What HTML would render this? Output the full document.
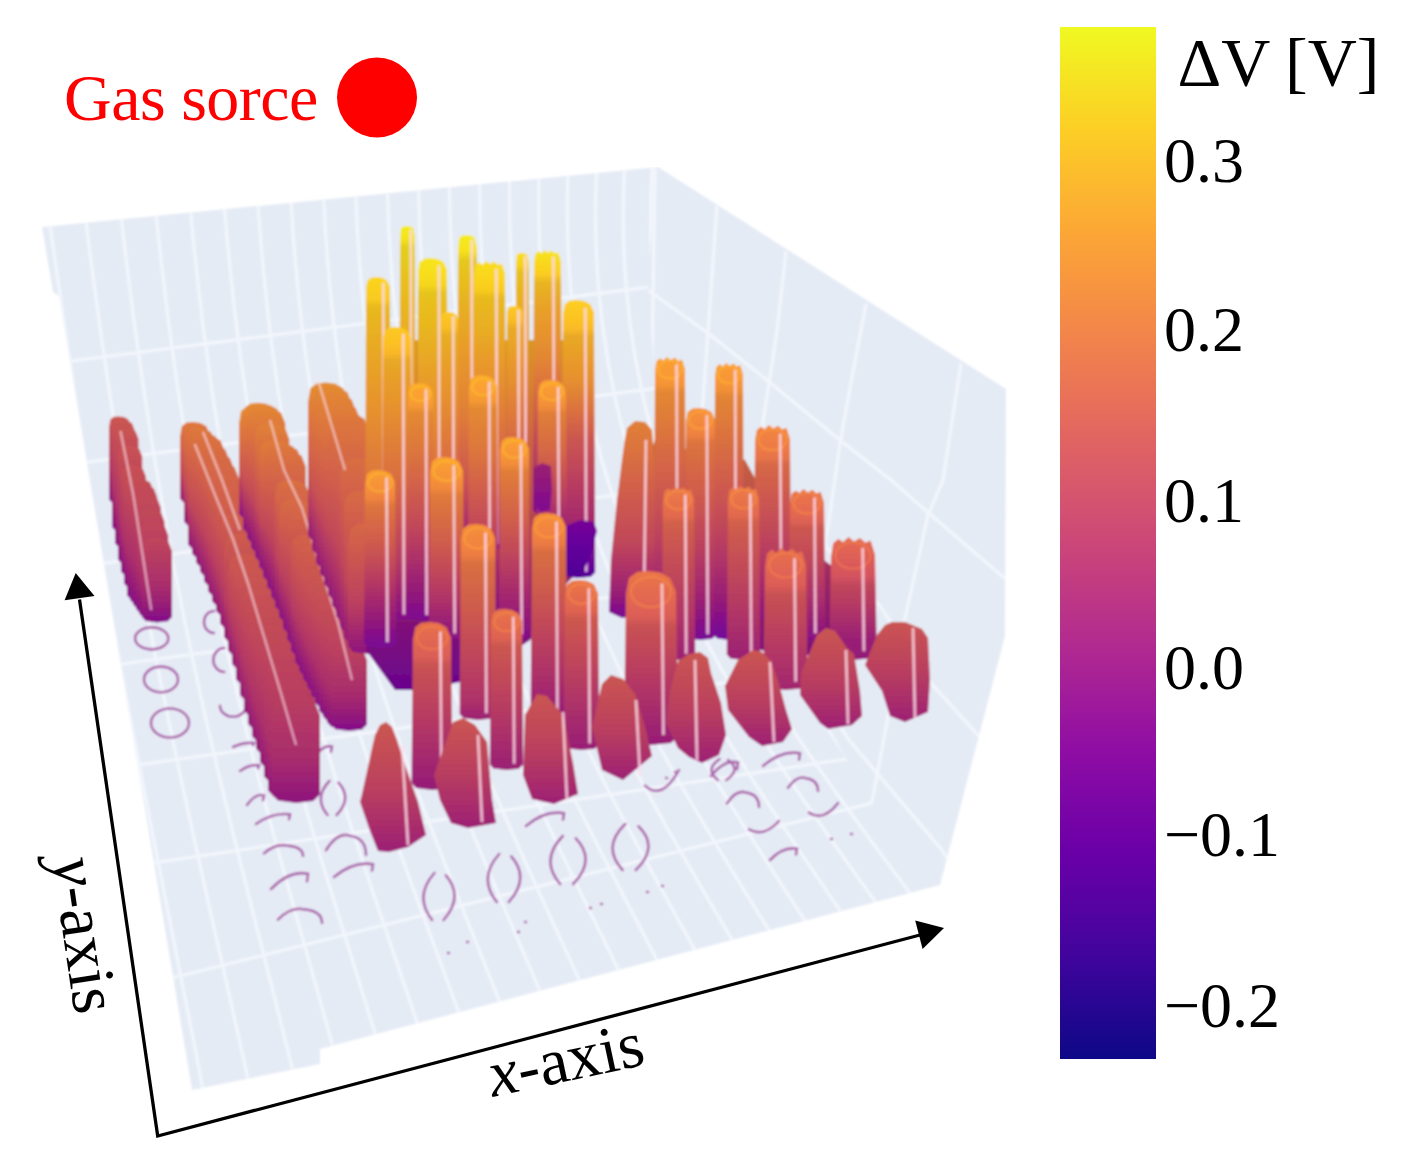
<!DOCTYPE html>
<html><head><meta charset="utf-8"><title>plot</title>
<style>html,body{margin:0;padding:0;background:#fff;}svg{display:block;}</style></head>
<body><svg width="1404" height="1172" viewBox="0 0 1404 1172">
<defs><linearGradient id="cb" x1="0" y1="0" x2="0" y2="1"><stop offset="0.000" stop-color="#f0f921"/><stop offset="0.050" stop-color="#f6e323"/><stop offset="0.100" stop-color="#fcce25"/><stop offset="0.150" stop-color="#fcba2e"/><stop offset="0.200" stop-color="#fca636"/><stop offset="0.250" stop-color="#f79540"/><stop offset="0.300" stop-color="#f2844b"/><stop offset="0.350" stop-color="#ea7456"/><stop offset="0.400" stop-color="#e16462"/><stop offset="0.450" stop-color="#d6566d"/><stop offset="0.500" stop-color="#cc4778"/><stop offset="0.550" stop-color="#be3884"/><stop offset="0.600" stop-color="#b12a90"/><stop offset="0.650" stop-color="#a01b9a"/><stop offset="0.700" stop-color="#8f0da4"/><stop offset="0.750" stop-color="#7c06a6"/><stop offset="0.800" stop-color="#6a00a8"/><stop offset="0.850" stop-color="#5602a2"/><stop offset="0.900" stop-color="#41049d"/><stop offset="0.950" stop-color="#270692"/><stop offset="1.000" stop-color="#0d0887"/></linearGradient><clipPath id="pc"><polygon points="42,227 658,167 1006,389 1005,636 940,885 320,1049 320,1064 192,1090 59,296 53,292"/></clipPath><clipPath id="fc"><polygon points="42,227 656,167 648,288 656,389 685,488 738,580 800,672 868,800 940,885 320,1049 320,1064 192,1090 59,296 53,292"/></clipPath><clipPath id="rc"><polygon points="656,167 1006,389 1005,636 940,885 868,800 800,672 738,580 685,488 656,389 648,288 652,168"/></clipPath><linearGradient id="g0" gradientUnits="userSpaceOnUse" x1="0" y1="416.378" x2="0" y2="503.333"><stop offset="0.0000" stop-color="#cc5750"/><stop offset="0.1500" stop-color="#c64f55"/><stop offset="0.3000" stop-color="#bf475b"/><stop offset="0.4500" stop-color="#b83e60"/><stop offset="0.6000" stop-color="#b13566"/><stop offset="0.7000" stop-color="#a72a6d"/><stop offset="0.8000" stop-color="#9b2075"/><stop offset="0.9000" stop-color="#8f157e"/><stop offset="1.0000" stop-color="#830c8c"/></linearGradient><linearGradient id="g1" gradientUnits="userSpaceOnUse" x1="0" y1="420.136" x2="0" y2="531"><stop offset="0.0000" stop-color="#ca5651"/><stop offset="0.1500" stop-color="#c54d56"/><stop offset="0.3000" stop-color="#be455b"/><stop offset="0.4500" stop-color="#b73d61"/><stop offset="0.6000" stop-color="#b03467"/><stop offset="0.7000" stop-color="#a62a6e"/><stop offset="0.8000" stop-color="#9b1f75"/><stop offset="0.9000" stop-color="#8f157e"/><stop offset="1.0000" stop-color="#830c8c"/></linearGradient><linearGradient id="g2" gradientUnits="userSpaceOnUse" x1="0" y1="428.239" x2="0" y2="547.5"><stop offset="0.0000" stop-color="#c95551"/><stop offset="0.1500" stop-color="#c44c57"/><stop offset="0.3000" stop-color="#be445c"/><stop offset="0.4500" stop-color="#b63c62"/><stop offset="0.6000" stop-color="#af3467"/><stop offset="0.7000" stop-color="#a6296f"/><stop offset="0.8000" stop-color="#9b1f75"/><stop offset="0.9000" stop-color="#8f157e"/><stop offset="1.0000" stop-color="#830c8c"/></linearGradient><linearGradient id="g3" gradientUnits="userSpaceOnUse" x1="0" y1="445.63" x2="0" y2="564"><stop offset="0.0000" stop-color="#c95353"/><stop offset="0.1500" stop-color="#c24b58"/><stop offset="0.3000" stop-color="#bd435d"/><stop offset="0.4500" stop-color="#b53b63"/><stop offset="0.6000" stop-color="#ae3368"/><stop offset="0.7000" stop-color="#a5286f"/><stop offset="0.8000" stop-color="#9a1f75"/><stop offset="0.9000" stop-color="#8e157e"/><stop offset="1.0000" stop-color="#830c8c"/></linearGradient><linearGradient id="g4" gradientUnits="userSpaceOnUse" x1="0" y1="465.598" x2="0" y2="576"><stop offset="0.0000" stop-color="#c85154"/><stop offset="0.1500" stop-color="#c14a58"/><stop offset="0.3000" stop-color="#bc415e"/><stop offset="0.4500" stop-color="#b43a63"/><stop offset="0.6000" stop-color="#ad3269"/><stop offset="0.7000" stop-color="#a42870"/><stop offset="0.8000" stop-color="#991e75"/><stop offset="0.9000" stop-color="#8e157e"/><stop offset="1.0000" stop-color="#830c8c"/></linearGradient><linearGradient id="g5" gradientUnits="userSpaceOnUse" x1="0" y1="476.951" x2="0" y2="588"><stop offset="0.0000" stop-color="#c65054"/><stop offset="0.1500" stop-color="#c0485a"/><stop offset="0.3000" stop-color="#bb405f"/><stop offset="0.4500" stop-color="#b33864"/><stop offset="0.6000" stop-color="#ac316a"/><stop offset="0.7000" stop-color="#a42870"/><stop offset="0.8000" stop-color="#991e76"/><stop offset="0.9000" stop-color="#8e147f"/><stop offset="1.0000" stop-color="#830c8c"/></linearGradient><linearGradient id="g6" gradientUnits="userSpaceOnUse" x1="0" y1="478.935" x2="0" y2="600"><stop offset="0.0000" stop-color="#c54e55"/><stop offset="0.1500" stop-color="#bf475b"/><stop offset="0.3000" stop-color="#ba3f5f"/><stop offset="0.4500" stop-color="#b23765"/><stop offset="0.6000" stop-color="#ab306a"/><stop offset="0.7000" stop-color="#a32771"/><stop offset="0.8000" stop-color="#981d76"/><stop offset="0.9000" stop-color="#8e1480"/><stop offset="1.0000" stop-color="#830c8c"/></linearGradient><linearGradient id="g7" gradientUnits="userSpaceOnUse" x1="0" y1="484.827" x2="0" y2="604.6"><stop offset="0.0000" stop-color="#c44c57"/><stop offset="0.1500" stop-color="#be455b"/><stop offset="0.3000" stop-color="#b83e60"/><stop offset="0.4500" stop-color="#b23666"/><stop offset="0.6000" stop-color="#ab2f6a"/><stop offset="0.7000" stop-color="#a22671"/><stop offset="0.8000" stop-color="#981d76"/><stop offset="0.9000" stop-color="#8d1480"/><stop offset="1.0000" stop-color="#830c8c"/></linearGradient><linearGradient id="g8" gradientUnits="userSpaceOnUse" x1="0" y1="495.318" x2="0" y2="609.2"><stop offset="0.0000" stop-color="#c34b58"/><stop offset="0.1500" stop-color="#be445c"/><stop offset="0.3000" stop-color="#b73d61"/><stop offset="0.4500" stop-color="#b13566"/><stop offset="0.6000" stop-color="#aa2e6b"/><stop offset="0.7000" stop-color="#a12671"/><stop offset="0.8000" stop-color="#971d77"/><stop offset="0.9000" stop-color="#8d1480"/><stop offset="1.0000" stop-color="#830c8c"/></linearGradient><linearGradient id="g9" gradientUnits="userSpaceOnUse" x1="0" y1="508.823" x2="0" y2="613.8"><stop offset="0.0000" stop-color="#c14a58"/><stop offset="0.1500" stop-color="#bd425d"/><stop offset="0.3000" stop-color="#b63b62"/><stop offset="0.4500" stop-color="#b03467"/><stop offset="0.6000" stop-color="#a92d6c"/><stop offset="0.7000" stop-color="#a12571"/><stop offset="0.8000" stop-color="#971d77"/><stop offset="0.9000" stop-color="#8d1380"/><stop offset="1.0000" stop-color="#830c8c"/></linearGradient><linearGradient id="g10" gradientUnits="userSpaceOnUse" x1="0" y1="522.328" x2="0" y2="618.4"><stop offset="0.0000" stop-color="#c0485a"/><stop offset="0.1500" stop-color="#bc415e"/><stop offset="0.3000" stop-color="#b53a63"/><stop offset="0.4500" stop-color="#af3468"/><stop offset="0.6000" stop-color="#a82c6d"/><stop offset="0.7000" stop-color="#a02472"/><stop offset="0.8000" stop-color="#961c77"/><stop offset="0.9000" stop-color="#8d1380"/><stop offset="1.0000" stop-color="#830c8c"/></linearGradient><linearGradient id="g11" gradientUnits="userSpaceOnUse" x1="0" y1="537.5" x2="0" y2="622.4"><stop offset="0.0000" stop-color="#bf465b"/><stop offset="0.1500" stop-color="#ba3f5f"/><stop offset="0.3000" stop-color="#b33964"/><stop offset="0.4500" stop-color="#ae3369"/><stop offset="0.6000" stop-color="#a72b6d"/><stop offset="0.7000" stop-color="#9f2472"/><stop offset="0.8000" stop-color="#961c77"/><stop offset="0.9000" stop-color="#8c1381"/><stop offset="1.0000" stop-color="#830c8c"/></linearGradient><linearGradient id="g13" gradientUnits="userSpaceOnUse" x1="0" y1="422" x2="0" y2="504"><stop offset="0.0000" stop-color="#e07b3a"/><stop offset="0.1500" stop-color="#d96f41"/><stop offset="0.3000" stop-color="#d36249"/><stop offset="0.4500" stop-color="#cb5651"/><stop offset="0.6000" stop-color="#c34b58"/><stop offset="0.7000" stop-color="#b83e61"/><stop offset="0.8000" stop-color="#ab306a"/><stop offset="0.9000" stop-color="#9d2274"/><stop offset="1.0000" stop-color="#8d1480"/></linearGradient><linearGradient id="g14" gradientUnits="userSpaceOnUse" x1="0" y1="428.009" x2="0" y2="527"><stop offset="0.0000" stop-color="#df793b"/><stop offset="0.1500" stop-color="#d86d42"/><stop offset="0.3000" stop-color="#d1614a"/><stop offset="0.4500" stop-color="#c95551"/><stop offset="0.6000" stop-color="#c24a58"/><stop offset="0.7000" stop-color="#b73d62"/><stop offset="0.8000" stop-color="#aa2f6b"/><stop offset="0.9000" stop-color="#9c2174"/><stop offset="1.0000" stop-color="#8d1480"/></linearGradient><linearGradient id="g15" gradientUnits="userSpaceOnUse" x1="0" y1="432.414" x2="0" y2="550"><stop offset="0.0000" stop-color="#dd763d"/><stop offset="0.1500" stop-color="#d66a44"/><stop offset="0.3000" stop-color="#d05e4b"/><stop offset="0.4500" stop-color="#c95352"/><stop offset="0.6000" stop-color="#c14959"/><stop offset="0.7000" stop-color="#b63b62"/><stop offset="0.8000" stop-color="#aa2e6b"/><stop offset="0.9000" stop-color="#9c2174"/><stop offset="1.0000" stop-color="#8d1480"/></linearGradient><linearGradient id="g16" gradientUnits="userSpaceOnUse" x1="0" y1="436.05" x2="0" y2="559.231"><stop offset="0.0000" stop-color="#db733f"/><stop offset="0.1500" stop-color="#d56846"/><stop offset="0.3000" stop-color="#cf5c4d"/><stop offset="0.4500" stop-color="#c85254"/><stop offset="0.6000" stop-color="#c0475a"/><stop offset="0.7000" stop-color="#b53a63"/><stop offset="0.8000" stop-color="#a92d6c"/><stop offset="0.9000" stop-color="#9b2074"/><stop offset="1.0000" stop-color="#8d1480"/></linearGradient><linearGradient id="g17" gradientUnits="userSpaceOnUse" x1="0" y1="444.721" x2="0" y2="568.462"><stop offset="0.0000" stop-color="#da7040"/><stop offset="0.1500" stop-color="#d46547"/><stop offset="0.3000" stop-color="#ce5a4e"/><stop offset="0.4500" stop-color="#c65054"/><stop offset="0.6000" stop-color="#be465b"/><stop offset="0.7000" stop-color="#b43963"/><stop offset="0.8000" stop-color="#a82d6c"/><stop offset="0.9000" stop-color="#9b2075"/><stop offset="1.0000" stop-color="#8d1480"/></linearGradient><linearGradient id="g18" gradientUnits="userSpaceOnUse" x1="0" y1="453.391" x2="0" y2="577.692"><stop offset="0.0000" stop-color="#d86d42"/><stop offset="0.1500" stop-color="#d36249"/><stop offset="0.3000" stop-color="#cc584f"/><stop offset="0.4500" stop-color="#c54e55"/><stop offset="0.6000" stop-color="#be445b"/><stop offset="0.7000" stop-color="#b33864"/><stop offset="0.8000" stop-color="#a82c6d"/><stop offset="0.9000" stop-color="#9b2075"/><stop offset="1.0000" stop-color="#8d1480"/></linearGradient><linearGradient id="g19" gradientUnits="userSpaceOnUse" x1="0" y1="462.436" x2="0" y2="587.5"><stop offset="0.0000" stop-color="#d76b43"/><stop offset="0.1500" stop-color="#d2614a"/><stop offset="0.3000" stop-color="#cb5651"/><stop offset="0.4500" stop-color="#c44c57"/><stop offset="0.6000" stop-color="#bd435d"/><stop offset="0.7000" stop-color="#b23765"/><stop offset="0.8000" stop-color="#a72b6d"/><stop offset="0.9000" stop-color="#9b1f75"/><stop offset="1.0000" stop-color="#8d1480"/></linearGradient><linearGradient id="g20" gradientUnits="userSpaceOnUse" x1="0" y1="474.158" x2="0" y2="597.5"><stop offset="0.0000" stop-color="#d56845"/><stop offset="0.1500" stop-color="#d05e4b"/><stop offset="0.3000" stop-color="#c95551"/><stop offset="0.4500" stop-color="#c34b58"/><stop offset="0.6000" stop-color="#bc415e"/><stop offset="0.7000" stop-color="#b23666"/><stop offset="0.8000" stop-color="#a72a6d"/><stop offset="0.9000" stop-color="#9b1f75"/><stop offset="1.0000" stop-color="#8d1480"/></linearGradient><linearGradient id="g21" gradientUnits="userSpaceOnUse" x1="0" y1="485.881" x2="0" y2="607.5"><stop offset="0.0000" stop-color="#d56547"/><stop offset="0.1500" stop-color="#cf5c4d"/><stop offset="0.3000" stop-color="#c85353"/><stop offset="0.4500" stop-color="#c14a58"/><stop offset="0.6000" stop-color="#bb405f"/><stop offset="0.7000" stop-color="#b13566"/><stop offset="0.8000" stop-color="#a62a6e"/><stop offset="0.9000" stop-color="#9a1f75"/><stop offset="1.0000" stop-color="#8d1480"/></linearGradient><linearGradient id="g22" gradientUnits="userSpaceOnUse" x1="0" y1="499.606" x2="0" y2="617.5"><stop offset="0.0000" stop-color="#d36249"/><stop offset="0.1500" stop-color="#cd594e"/><stop offset="0.3000" stop-color="#c75154"/><stop offset="0.4500" stop-color="#c0485a"/><stop offset="0.6000" stop-color="#ba3f5f"/><stop offset="0.7000" stop-color="#b03467"/><stop offset="0.8000" stop-color="#a6296f"/><stop offset="0.9000" stop-color="#9a1e75"/><stop offset="1.0000" stop-color="#8d1480"/></linearGradient><linearGradient id="g23" gradientUnits="userSpaceOnUse" x1="0" y1="513.542" x2="0" y2="630.2"><stop offset="0.0000" stop-color="#d1604a"/><stop offset="0.1500" stop-color="#cb5750"/><stop offset="0.3000" stop-color="#c54e55"/><stop offset="0.4500" stop-color="#bf465b"/><stop offset="0.6000" stop-color="#b83e60"/><stop offset="0.7000" stop-color="#af3468"/><stop offset="0.8000" stop-color="#a5286f"/><stop offset="0.9000" stop-color="#991e75"/><stop offset="1.0000" stop-color="#8d1480"/></linearGradient><linearGradient id="g24" gradientUnits="userSpaceOnUse" x1="0" y1="533.155" x2="0" y2="643.8"><stop offset="0.0000" stop-color="#d05d4c"/><stop offset="0.1500" stop-color="#c95551"/><stop offset="0.3000" stop-color="#c44c57"/><stop offset="0.4500" stop-color="#be445b"/><stop offset="0.6000" stop-color="#b73c62"/><stop offset="0.7000" stop-color="#ae3269"/><stop offset="0.8000" stop-color="#a42870"/><stop offset="0.9000" stop-color="#991e76"/><stop offset="1.0000" stop-color="#8d1480"/></linearGradient><linearGradient id="g25" gradientUnits="userSpaceOnUse" x1="0" y1="554.011" x2="0" y2="657.4"><stop offset="0.0000" stop-color="#ce5b4d"/><stop offset="0.1500" stop-color="#c95353"/><stop offset="0.3000" stop-color="#c24b58"/><stop offset="0.4500" stop-color="#bd435d"/><stop offset="0.6000" stop-color="#b53b63"/><stop offset="0.7000" stop-color="#ad316a"/><stop offset="0.8000" stop-color="#a42870"/><stop offset="0.9000" stop-color="#981d76"/><stop offset="1.0000" stop-color="#8d1480"/></linearGradient><linearGradient id="g26" gradientUnits="userSpaceOnUse" x1="0" y1="565.283" x2="0" y2="671"><stop offset="0.0000" stop-color="#cc584f"/><stop offset="0.1500" stop-color="#c75154"/><stop offset="0.3000" stop-color="#c14959"/><stop offset="0.4500" stop-color="#bc415e"/><stop offset="0.6000" stop-color="#b43963"/><stop offset="0.7000" stop-color="#ac306a"/><stop offset="0.8000" stop-color="#a32771"/><stop offset="0.9000" stop-color="#981d76"/><stop offset="1.0000" stop-color="#8d1480"/></linearGradient><linearGradient id="g27" gradientUnits="userSpaceOnUse" x1="0" y1="576.674" x2="0" y2="686.692"><stop offset="0.0000" stop-color="#ca5651"/><stop offset="0.1500" stop-color="#c54e55"/><stop offset="0.3000" stop-color="#bf475a"/><stop offset="0.4500" stop-color="#ba3f5f"/><stop offset="0.6000" stop-color="#b33864"/><stop offset="0.7000" stop-color="#ab2f6a"/><stop offset="0.8000" stop-color="#a22671"/><stop offset="0.9000" stop-color="#981d76"/><stop offset="1.0000" stop-color="#8d1480"/></linearGradient><linearGradient id="g28" gradientUnits="userSpaceOnUse" x1="0" y1="588.813" x2="0" y2="702.385"><stop offset="0.0000" stop-color="#c95452"/><stop offset="0.1500" stop-color="#c44c57"/><stop offset="0.3000" stop-color="#be455b"/><stop offset="0.4500" stop-color="#b93e60"/><stop offset="0.6000" stop-color="#b23765"/><stop offset="0.7000" stop-color="#a92e6b"/><stop offset="0.8000" stop-color="#a12671"/><stop offset="0.9000" stop-color="#971d77"/><stop offset="1.0000" stop-color="#8d1480"/></linearGradient><linearGradient id="g29" gradientUnits="userSpaceOnUse" x1="0" y1="600.952" x2="0" y2="718.077"><stop offset="0.0000" stop-color="#c75154"/><stop offset="0.1500" stop-color="#c24a58"/><stop offset="0.3000" stop-color="#bd435c"/><stop offset="0.4500" stop-color="#b73d62"/><stop offset="0.6000" stop-color="#b13566"/><stop offset="0.7000" stop-color="#a82d6c"/><stop offset="0.8000" stop-color="#a02572"/><stop offset="0.9000" stop-color="#971d77"/><stop offset="1.0000" stop-color="#8d1480"/></linearGradient><linearGradient id="g30" gradientUnits="userSpaceOnUse" x1="0" y1="613.061" x2="0" y2="731.462"><stop offset="0.0000" stop-color="#c54e55"/><stop offset="0.1500" stop-color="#c0485a"/><stop offset="0.3000" stop-color="#bc415e"/><stop offset="0.4500" stop-color="#b53b63"/><stop offset="0.6000" stop-color="#b03467"/><stop offset="0.7000" stop-color="#a72c6d"/><stop offset="0.8000" stop-color="#a02472"/><stop offset="0.9000" stop-color="#961c77"/><stop offset="1.0000" stop-color="#8d1480"/></linearGradient><linearGradient id="g31" gradientUnits="userSpaceOnUse" x1="0" y1="625.084" x2="0" y2="744.077"><stop offset="0.0000" stop-color="#c34c57"/><stop offset="0.1500" stop-color="#be465b"/><stop offset="0.3000" stop-color="#ba3f5f"/><stop offset="0.4500" stop-color="#b43963"/><stop offset="0.6000" stop-color="#ae3368"/><stop offset="0.7000" stop-color="#a72b6d"/><stop offset="0.8000" stop-color="#9f2373"/><stop offset="0.9000" stop-color="#961c77"/><stop offset="1.0000" stop-color="#8d1480"/></linearGradient><linearGradient id="g32" gradientUnits="userSpaceOnUse" x1="0" y1="637.107" x2="0" y2="756.692"><stop offset="0.0000" stop-color="#c14a58"/><stop offset="0.1500" stop-color="#be435c"/><stop offset="0.3000" stop-color="#b83e61"/><stop offset="0.4500" stop-color="#b23765"/><stop offset="0.6000" stop-color="#ad3269"/><stop offset="0.7000" stop-color="#a62a6e"/><stop offset="0.8000" stop-color="#9e2373"/><stop offset="0.9000" stop-color="#951c78"/><stop offset="1.0000" stop-color="#8d1480"/></linearGradient><linearGradient id="g33" gradientUnits="userSpaceOnUse" x1="0" y1="649.13" x2="0" y2="770.2"><stop offset="0.0000" stop-color="#bf475a"/><stop offset="0.1500" stop-color="#bc415e"/><stop offset="0.3000" stop-color="#b63c62"/><stop offset="0.4500" stop-color="#b13566"/><stop offset="0.6000" stop-color="#ab306a"/><stop offset="0.7000" stop-color="#a5286f"/><stop offset="0.8000" stop-color="#9d2274"/><stop offset="0.9000" stop-color="#951b78"/><stop offset="1.0000" stop-color="#8d1480"/></linearGradient><linearGradient id="g34" gradientUnits="userSpaceOnUse" x1="0" y1="663.942" x2="0" y2="784.6"><stop offset="0.0000" stop-color="#be445b"/><stop offset="0.1500" stop-color="#ba3f5f"/><stop offset="0.3000" stop-color="#b43a63"/><stop offset="0.4500" stop-color="#b03467"/><stop offset="0.6000" stop-color="#aa2f6b"/><stop offset="0.7000" stop-color="#a42870"/><stop offset="0.8000" stop-color="#9c2174"/><stop offset="0.9000" stop-color="#951b78"/><stop offset="1.0000" stop-color="#8d1480"/></linearGradient><linearGradient id="g35" gradientUnits="userSpaceOnUse" x1="0" y1="678.971" x2="0" y2="799"><stop offset="0.0000" stop-color="#bd425d"/><stop offset="0.1500" stop-color="#b73d61"/><stop offset="0.3000" stop-color="#b23765"/><stop offset="0.4500" stop-color="#ae3368"/><stop offset="0.6000" stop-color="#a92d6c"/><stop offset="0.7000" stop-color="#a32771"/><stop offset="0.8000" stop-color="#9b2075"/><stop offset="0.9000" stop-color="#941a78"/><stop offset="1.0000" stop-color="#8d1480"/></linearGradient><linearGradient id="g36" gradientUnits="userSpaceOnUse" x1="0" y1="694" x2="0" y2="803"><stop offset="0.0000" stop-color="#ba3f5f"/><stop offset="0.1500" stop-color="#b53b63"/><stop offset="0.3000" stop-color="#b13566"/><stop offset="0.4500" stop-color="#ac316a"/><stop offset="0.6000" stop-color="#a72c6d"/><stop offset="0.7000" stop-color="#a22671"/><stop offset="0.8000" stop-color="#9b2075"/><stop offset="0.9000" stop-color="#941a78"/><stop offset="1.0000" stop-color="#8d1480"/></linearGradient><linearGradient id="g39" gradientUnits="userSpaceOnUse" x1="0" y1="406.356" x2="0" y2="520"><stop offset="0.0000" stop-color="#e5902f"/><stop offset="0.1500" stop-color="#e07f38"/><stop offset="0.3000" stop-color="#d96f41"/><stop offset="0.4500" stop-color="#d1604a"/><stop offset="0.6000" stop-color="#c75154"/><stop offset="0.7000" stop-color="#ba3f5f"/><stop offset="0.8000" stop-color="#a92e6b"/><stop offset="0.9000" stop-color="#971d77"/><stop offset="1.0000" stop-color="#830c8c"/></linearGradient><linearGradient id="g40" gradientUnits="userSpaceOnUse" x1="0" y1="402.75" x2="0" y2="534.706"><stop offset="0.0000" stop-color="#e48d30"/><stop offset="0.1500" stop-color="#e07c39"/><stop offset="0.3000" stop-color="#d86d42"/><stop offset="0.4500" stop-color="#d05d4c"/><stop offset="0.6000" stop-color="#c64f55"/><stop offset="0.7000" stop-color="#b93f60"/><stop offset="0.8000" stop-color="#a92d6c"/><stop offset="0.9000" stop-color="#971d77"/><stop offset="1.0000" stop-color="#830c8c"/></linearGradient><linearGradient id="g41" gradientUnits="userSpaceOnUse" x1="0" y1="404.295" x2="0" y2="544.118"><stop offset="0.0000" stop-color="#e38933"/><stop offset="0.1500" stop-color="#df793b"/><stop offset="0.3000" stop-color="#d66a44"/><stop offset="0.4500" stop-color="#ce5b4d"/><stop offset="0.6000" stop-color="#c54d56"/><stop offset="0.7000" stop-color="#b83d61"/><stop offset="0.8000" stop-color="#a82c6d"/><stop offset="0.9000" stop-color="#961c77"/><stop offset="1.0000" stop-color="#830c8c"/></linearGradient><linearGradient id="g42" gradientUnits="userSpaceOnUse" x1="0" y1="408.024" x2="0" y2="553.529"><stop offset="0.0000" stop-color="#e28534"/><stop offset="0.1500" stop-color="#dd763d"/><stop offset="0.3000" stop-color="#d56746"/><stop offset="0.4500" stop-color="#cd594e"/><stop offset="0.6000" stop-color="#c34b57"/><stop offset="0.7000" stop-color="#b63c62"/><stop offset="0.8000" stop-color="#a72b6d"/><stop offset="0.9000" stop-color="#961c78"/><stop offset="1.0000" stop-color="#830c8c"/></linearGradient><linearGradient id="g43" gradientUnits="userSpaceOnUse" x1="0" y1="423.439" x2="0" y2="562.941"><stop offset="0.0000" stop-color="#e18236"/><stop offset="0.1500" stop-color="#db733f"/><stop offset="0.3000" stop-color="#d46547"/><stop offset="0.4500" stop-color="#cb5750"/><stop offset="0.6000" stop-color="#c24b58"/><stop offset="0.7000" stop-color="#b53a63"/><stop offset="0.8000" stop-color="#a72a6d"/><stop offset="0.9000" stop-color="#951b78"/><stop offset="1.0000" stop-color="#830c8c"/></linearGradient><linearGradient id="g44" gradientUnits="userSpaceOnUse" x1="0" y1="441.109" x2="0" y2="572.5"><stop offset="0.0000" stop-color="#e07e38"/><stop offset="0.1500" stop-color="#da7040"/><stop offset="0.3000" stop-color="#d36249"/><stop offset="0.4500" stop-color="#ca5551"/><stop offset="0.6000" stop-color="#c14959"/><stop offset="0.7000" stop-color="#b43963"/><stop offset="0.8000" stop-color="#a6296e"/><stop offset="0.9000" stop-color="#941b78"/><stop offset="1.0000" stop-color="#830c8c"/></linearGradient><linearGradient id="g45" gradientUnits="userSpaceOnUse" x1="0" y1="442.268" x2="0" y2="582.5"><stop offset="0.0000" stop-color="#df7a3a"/><stop offset="0.1500" stop-color="#d86d42"/><stop offset="0.3000" stop-color="#d1604a"/><stop offset="0.4500" stop-color="#c95352"/><stop offset="0.6000" stop-color="#bf475a"/><stop offset="0.7000" stop-color="#b23864"/><stop offset="0.8000" stop-color="#a5296f"/><stop offset="0.9000" stop-color="#941a78"/><stop offset="1.0000" stop-color="#830c8c"/></linearGradient><linearGradient id="g46" gradientUnits="userSpaceOnUse" x1="0" y1="445.137" x2="0" y2="592.5"><stop offset="0.0000" stop-color="#de783c"/><stop offset="0.1500" stop-color="#d66a44"/><stop offset="0.3000" stop-color="#d05d4c"/><stop offset="0.4500" stop-color="#c75154"/><stop offset="0.6000" stop-color="#be455b"/><stop offset="0.7000" stop-color="#b23666"/><stop offset="0.8000" stop-color="#a42870"/><stop offset="0.9000" stop-color="#931a78"/><stop offset="1.0000" stop-color="#830c8c"/></linearGradient><linearGradient id="g47" gradientUnits="userSpaceOnUse" x1="0" y1="450.932" x2="0" y2="602.5"><stop offset="0.0000" stop-color="#dc743e"/><stop offset="0.1500" stop-color="#d56746"/><stop offset="0.3000" stop-color="#ce5a4d"/><stop offset="0.4500" stop-color="#c64f55"/><stop offset="0.6000" stop-color="#be435c"/><stop offset="0.7000" stop-color="#b13566"/><stop offset="0.8000" stop-color="#a42870"/><stop offset="0.9000" stop-color="#931979"/><stop offset="1.0000" stop-color="#830c8c"/></linearGradient><linearGradient id="g48" gradientUnits="userSpaceOnUse" x1="0" y1="479.957" x2="0" y2="612.5"><stop offset="0.0000" stop-color="#da7040"/><stop offset="0.1500" stop-color="#d46448"/><stop offset="0.3000" stop-color="#cc584f"/><stop offset="0.4500" stop-color="#c44d56"/><stop offset="0.6000" stop-color="#bc425e"/><stop offset="0.7000" stop-color="#b03467"/><stop offset="0.8000" stop-color="#a32771"/><stop offset="0.9000" stop-color="#921979"/><stop offset="1.0000" stop-color="#830c8c"/></linearGradient><linearGradient id="g49" gradientUnits="userSpaceOnUse" x1="0" y1="498.661" x2="0" y2="622.833"><stop offset="0.0000" stop-color="#d86d42"/><stop offset="0.1500" stop-color="#d2624a"/><stop offset="0.3000" stop-color="#ca5651"/><stop offset="0.4500" stop-color="#c34b58"/><stop offset="0.6000" stop-color="#bb405f"/><stop offset="0.7000" stop-color="#ae3368"/><stop offset="0.8000" stop-color="#a22671"/><stop offset="0.9000" stop-color="#92187a"/><stop offset="1.0000" stop-color="#830c8c"/></linearGradient><linearGradient id="g50" gradientUnits="userSpaceOnUse" x1="0" y1="503.19" x2="0" y2="634.167"><stop offset="0.0000" stop-color="#d66a44"/><stop offset="0.1500" stop-color="#d05e4b"/><stop offset="0.3000" stop-color="#c95452"/><stop offset="0.4500" stop-color="#c14959"/><stop offset="0.6000" stop-color="#b93f60"/><stop offset="0.7000" stop-color="#ad3269"/><stop offset="0.8000" stop-color="#a12571"/><stop offset="0.9000" stop-color="#91187a"/><stop offset="1.0000" stop-color="#830c8c"/></linearGradient><linearGradient id="g51" gradientUnits="userSpaceOnUse" x1="0" y1="512.226" x2="0" y2="645.5"><stop offset="0.0000" stop-color="#d56646"/><stop offset="0.1500" stop-color="#ce5b4d"/><stop offset="0.3000" stop-color="#c75154"/><stop offset="0.4500" stop-color="#bf475a"/><stop offset="0.6000" stop-color="#b73d61"/><stop offset="0.7000" stop-color="#ac316a"/><stop offset="0.8000" stop-color="#a02472"/><stop offset="0.9000" stop-color="#91187b"/><stop offset="1.0000" stop-color="#830c8c"/></linearGradient><linearGradient id="g52" gradientUnits="userSpaceOnUse" x1="0" y1="535.097" x2="0" y2="656.833"><stop offset="0.0000" stop-color="#d36349"/><stop offset="0.1500" stop-color="#cc584f"/><stop offset="0.3000" stop-color="#c64f55"/><stop offset="0.4500" stop-color="#be455b"/><stop offset="0.6000" stop-color="#b63b63"/><stop offset="0.7000" stop-color="#ab2f6a"/><stop offset="0.8000" stop-color="#9e2373"/><stop offset="0.9000" stop-color="#90177c"/><stop offset="1.0000" stop-color="#830c8c"/></linearGradient><linearGradient id="g53" gradientUnits="userSpaceOnUse" x1="0" y1="546.365" x2="0" y2="668.167"><stop offset="0.0000" stop-color="#d1604a"/><stop offset="0.1500" stop-color="#ca5651"/><stop offset="0.3000" stop-color="#c44c57"/><stop offset="0.4500" stop-color="#bd435d"/><stop offset="0.6000" stop-color="#b43963"/><stop offset="0.7000" stop-color="#a92e6c"/><stop offset="0.8000" stop-color="#9d2273"/><stop offset="0.9000" stop-color="#90177c"/><stop offset="1.0000" stop-color="#830c8c"/></linearGradient><linearGradient id="g54" gradientUnits="userSpaceOnUse" x1="0" y1="557.633" x2="0" y2="677"><stop offset="0.0000" stop-color="#cf5c4d"/><stop offset="0.1500" stop-color="#c95352"/><stop offset="0.3000" stop-color="#c24a58"/><stop offset="0.4500" stop-color="#bc415e"/><stop offset="0.6000" stop-color="#b23865"/><stop offset="0.7000" stop-color="#a82c6d"/><stop offset="0.8000" stop-color="#9c2174"/><stop offset="0.9000" stop-color="#90167c"/><stop offset="1.0000" stop-color="#830c8c"/></linearGradient><linearGradient id="g55" gradientUnits="userSpaceOnUse" x1="0" y1="568.901" x2="0" y2="685"><stop offset="0.0000" stop-color="#cd594e"/><stop offset="0.1500" stop-color="#c75054"/><stop offset="0.3000" stop-color="#c0485a"/><stop offset="0.4500" stop-color="#ba3f5f"/><stop offset="0.6000" stop-color="#b23666"/><stop offset="0.7000" stop-color="#a72b6d"/><stop offset="0.8000" stop-color="#9b2075"/><stop offset="0.9000" stop-color="#90167e"/><stop offset="1.0000" stop-color="#830c8c"/></linearGradient><linearGradient id="g56" gradientUnits="userSpaceOnUse" x1="0" y1="580.162" x2="0" y2="693"><stop offset="0.0000" stop-color="#ca5651"/><stop offset="0.1500" stop-color="#c54e56"/><stop offset="0.3000" stop-color="#be455b"/><stop offset="0.4500" stop-color="#b73d61"/><stop offset="0.6000" stop-color="#b03467"/><stop offset="0.7000" stop-color="#a62a6e"/><stop offset="0.8000" stop-color="#9b2075"/><stop offset="0.9000" stop-color="#8f157e"/><stop offset="1.0000" stop-color="#830c8c"/></linearGradient><linearGradient id="g57" gradientUnits="userSpaceOnUse" x1="0" y1="590.98" x2="0" y2="701"><stop offset="0.0000" stop-color="#c95352"/><stop offset="0.1500" stop-color="#c34b58"/><stop offset="0.3000" stop-color="#bd435d"/><stop offset="0.4500" stop-color="#b53b63"/><stop offset="0.6000" stop-color="#ae3368"/><stop offset="0.7000" stop-color="#a5286f"/><stop offset="0.8000" stop-color="#9a1f75"/><stop offset="0.9000" stop-color="#8f157e"/><stop offset="1.0000" stop-color="#830c8c"/></linearGradient><linearGradient id="g58" gradientUnits="userSpaceOnUse" x1="0" y1="601.797" x2="0" y2="709"><stop offset="0.0000" stop-color="#c75054"/><stop offset="0.1500" stop-color="#c14959"/><stop offset="0.3000" stop-color="#bb405f"/><stop offset="0.4500" stop-color="#b33964"/><stop offset="0.6000" stop-color="#ad316a"/><stop offset="0.7000" stop-color="#a42870"/><stop offset="0.8000" stop-color="#991e75"/><stop offset="0.9000" stop-color="#8e147f"/><stop offset="1.0000" stop-color="#830c8c"/></linearGradient><linearGradient id="g59" gradientUnits="userSpaceOnUse" x1="0" y1="612.614" x2="0" y2="717"><stop offset="0.0000" stop-color="#c44d56"/><stop offset="0.1500" stop-color="#be465b"/><stop offset="0.3000" stop-color="#b93f60"/><stop offset="0.4500" stop-color="#b23765"/><stop offset="0.6000" stop-color="#ab2f6a"/><stop offset="0.7000" stop-color="#a32771"/><stop offset="0.8000" stop-color="#981d76"/><stop offset="0.9000" stop-color="#8d1480"/><stop offset="1.0000" stop-color="#830c8c"/></linearGradient><linearGradient id="g60" gradientUnits="userSpaceOnUse" x1="0" y1="623.346" x2="0" y2="722.75"><stop offset="0.0000" stop-color="#c24a58"/><stop offset="0.1500" stop-color="#bd435d"/><stop offset="0.3000" stop-color="#b63c62"/><stop offset="0.4500" stop-color="#b03466"/><stop offset="0.6000" stop-color="#a92e6c"/><stop offset="0.7000" stop-color="#a12571"/><stop offset="0.8000" stop-color="#971d77"/><stop offset="0.9000" stop-color="#8d1380"/><stop offset="1.0000" stop-color="#830c8c"/></linearGradient><linearGradient id="g61" gradientUnits="userSpaceOnUse" x1="0" y1="633.893" x2="0" y2="728.5"><stop offset="0.0000" stop-color="#bf475a"/><stop offset="0.1500" stop-color="#bb405f"/><stop offset="0.3000" stop-color="#b43a63"/><stop offset="0.4500" stop-color="#ae3368"/><stop offset="0.6000" stop-color="#a72c6d"/><stop offset="0.7000" stop-color="#9f2472"/><stop offset="0.8000" stop-color="#961c77"/><stop offset="0.9000" stop-color="#8c1380"/><stop offset="1.0000" stop-color="#830c8c"/></linearGradient><linearGradient id="g62" gradientUnits="userSpaceOnUse" x1="0" y1="644.44" x2="0" y2="731.062"><stop offset="0.0000" stop-color="#be445c"/><stop offset="0.1500" stop-color="#b83e60"/><stop offset="0.3000" stop-color="#b23765"/><stop offset="0.4500" stop-color="#ac316a"/><stop offset="0.6000" stop-color="#a72a6e"/><stop offset="0.7000" stop-color="#9e2373"/><stop offset="0.8000" stop-color="#951b78"/><stop offset="0.9000" stop-color="#8c1382"/><stop offset="1.0000" stop-color="#830c8c"/></linearGradient><linearGradient id="g64" gradientUnits="userSpaceOnUse" x1="0" y1="382.6" x2="0" y2="543.333"><stop offset="0.0000" stop-color="#e48e30"/><stop offset="0.1500" stop-color="#e07e38"/><stop offset="0.3000" stop-color="#d96f41"/><stop offset="0.4500" stop-color="#d2624a"/><stop offset="0.6000" stop-color="#c95452"/><stop offset="0.7000" stop-color="#be445c"/><stop offset="0.8000" stop-color="#af3467"/><stop offset="0.9000" stop-color="#9f2472"/><stop offset="1.0000" stop-color="#8d1480"/></linearGradient><linearGradient id="g65" gradientUnits="userSpaceOnUse" x1="0" y1="386.651" x2="0" y2="556.667"><stop offset="0.0000" stop-color="#e38a32"/><stop offset="0.1500" stop-color="#df7a3a"/><stop offset="0.3000" stop-color="#d86d42"/><stop offset="0.4500" stop-color="#d15f4b"/><stop offset="0.6000" stop-color="#c85253"/><stop offset="0.7000" stop-color="#bd425d"/><stop offset="0.8000" stop-color="#ae3368"/><stop offset="0.9000" stop-color="#9f2372"/><stop offset="1.0000" stop-color="#8d1480"/></linearGradient><linearGradient id="g66" gradientUnits="userSpaceOnUse" x1="0" y1="393.731" x2="0" y2="570"><stop offset="0.0000" stop-color="#e28534"/><stop offset="0.1500" stop-color="#de783c"/><stop offset="0.3000" stop-color="#d66a44"/><stop offset="0.4500" stop-color="#cf5c4d"/><stop offset="0.6000" stop-color="#c75054"/><stop offset="0.7000" stop-color="#bc415e"/><stop offset="0.8000" stop-color="#ad3269"/><stop offset="0.9000" stop-color="#9e2373"/><stop offset="1.0000" stop-color="#8d1480"/></linearGradient><linearGradient id="g67" gradientUnits="userSpaceOnUse" x1="0" y1="402.264" x2="0" y2="580.667"><stop offset="0.0000" stop-color="#e18236"/><stop offset="0.1500" stop-color="#dc743e"/><stop offset="0.3000" stop-color="#d56746"/><stop offset="0.4500" stop-color="#ce5a4e"/><stop offset="0.6000" stop-color="#c54e55"/><stop offset="0.7000" stop-color="#ba3f5f"/><stop offset="0.8000" stop-color="#ac316a"/><stop offset="0.9000" stop-color="#9e2273"/><stop offset="1.0000" stop-color="#8d1480"/></linearGradient><linearGradient id="g68" gradientUnits="userSpaceOnUse" x1="0" y1="410.347" x2="0" y2="591.333"><stop offset="0.0000" stop-color="#e07e38"/><stop offset="0.1500" stop-color="#da7140"/><stop offset="0.3000" stop-color="#d46448"/><stop offset="0.4500" stop-color="#cc584f"/><stop offset="0.6000" stop-color="#c44c57"/><stop offset="0.7000" stop-color="#b93f60"/><stop offset="0.8000" stop-color="#ac306a"/><stop offset="0.9000" stop-color="#9d2274"/><stop offset="1.0000" stop-color="#8d1480"/></linearGradient><linearGradient id="g69" gradientUnits="userSpaceOnUse" x1="0" y1="413.1" x2="0" y2="602"><stop offset="0.0000" stop-color="#df7a3a"/><stop offset="0.1500" stop-color="#d86d42"/><stop offset="0.3000" stop-color="#d2624a"/><stop offset="0.4500" stop-color="#ca5651"/><stop offset="0.6000" stop-color="#c24b58"/><stop offset="0.7000" stop-color="#b83d61"/><stop offset="0.8000" stop-color="#ab2f6a"/><stop offset="0.9000" stop-color="#9c2174"/><stop offset="1.0000" stop-color="#8d1480"/></linearGradient><linearGradient id="g70" gradientUnits="userSpaceOnUse" x1="0" y1="419.56" x2="0" y2="612.667"><stop offset="0.0000" stop-color="#dd773c"/><stop offset="0.1500" stop-color="#d66b44"/><stop offset="0.3000" stop-color="#d15f4b"/><stop offset="0.4500" stop-color="#c95452"/><stop offset="0.6000" stop-color="#c14959"/><stop offset="0.7000" stop-color="#b63c62"/><stop offset="0.8000" stop-color="#aa2e6b"/><stop offset="0.9000" stop-color="#9c2174"/><stop offset="1.0000" stop-color="#8d1480"/></linearGradient><linearGradient id="g71" gradientUnits="userSpaceOnUse" x1="0" y1="431.46" x2="0" y2="623.333"><stop offset="0.0000" stop-color="#db733f"/><stop offset="0.1500" stop-color="#d56746"/><stop offset="0.3000" stop-color="#cf5c4d"/><stop offset="0.4500" stop-color="#c85154"/><stop offset="0.6000" stop-color="#bf475a"/><stop offset="0.7000" stop-color="#b53a63"/><stop offset="0.8000" stop-color="#a92d6c"/><stop offset="0.9000" stop-color="#9b2075"/><stop offset="1.0000" stop-color="#8d1480"/></linearGradient><linearGradient id="g72" gradientUnits="userSpaceOnUse" x1="0" y1="458.171" x2="0" y2="634"><stop offset="0.0000" stop-color="#d96f41"/><stop offset="0.1500" stop-color="#d46448"/><stop offset="0.3000" stop-color="#cd594e"/><stop offset="0.4500" stop-color="#c64f55"/><stop offset="0.6000" stop-color="#be455b"/><stop offset="0.7000" stop-color="#b33964"/><stop offset="0.8000" stop-color="#a82c6d"/><stop offset="0.9000" stop-color="#9b2075"/><stop offset="1.0000" stop-color="#8d1480"/></linearGradient><linearGradient id="g73" gradientUnits="userSpaceOnUse" x1="0" y1="490.621" x2="0" y2="644.667"><stop offset="0.0000" stop-color="#d76c43"/><stop offset="0.1500" stop-color="#d2614a"/><stop offset="0.3000" stop-color="#cb5650"/><stop offset="0.4500" stop-color="#c44d56"/><stop offset="0.6000" stop-color="#be435c"/><stop offset="0.7000" stop-color="#b23765"/><stop offset="0.8000" stop-color="#a72b6d"/><stop offset="0.9000" stop-color="#9b1f75"/><stop offset="1.0000" stop-color="#8d1480"/></linearGradient><linearGradient id="g74" gradientUnits="userSpaceOnUse" x1="0" y1="523.071" x2="0" y2="654"><stop offset="0.0000" stop-color="#d56846"/><stop offset="0.1500" stop-color="#d05e4c"/><stop offset="0.3000" stop-color="#c95551"/><stop offset="0.4500" stop-color="#c34b58"/><stop offset="0.6000" stop-color="#bc415e"/><stop offset="0.7000" stop-color="#b23666"/><stop offset="0.8000" stop-color="#a72a6d"/><stop offset="0.9000" stop-color="#9b1f75"/><stop offset="1.0000" stop-color="#8d1480"/></linearGradient><linearGradient id="g76" gradientUnits="userSpaceOnUse" x1="0" y1="340" x2="0" y2="690"><stop offset="0.0000" stop-color="#d69a23"/><stop offset="0.0429" stop-color="#d69126"/><stop offset="0.0857" stop-color="#d58a28"/><stop offset="0.1286" stop-color="#d3832d"/><stop offset="0.1714" stop-color="#d17b30"/><stop offset="0.2429" stop-color="#ce6f36"/><stop offset="0.3143" stop-color="#c8643d"/><stop offset="0.3857" stop-color="#c25944"/><stop offset="0.4571" stop-color="#bb4f4a"/><stop offset="0.5143" stop-color="#b24352"/><stop offset="0.5714" stop-color="#a8365b"/><stop offset="0.6286" stop-color="#9d2a63"/><stop offset="0.6857" stop-color="#901f6b"/><stop offset="0.7643" stop-color="#871671"/><stop offset="0.8429" stop-color="#7d0e7c"/><stop offset="0.9214" stop-color="#740886"/><stop offset="1.0000" stop-color="#69058d"/></linearGradient><linearGradient id="g77" gradientUnits="userSpaceOnUse" x1="0" y1="440" x2="0" y2="680"><stop offset="0.0000" stop-color="#ca693b"/><stop offset="0.0625" stop-color="#c6633f"/><stop offset="0.1250" stop-color="#c35c42"/><stop offset="0.1875" stop-color="#bf5547"/><stop offset="0.2500" stop-color="#bb4f4a"/><stop offset="0.3542" stop-color="#b24352"/><stop offset="0.4583" stop-color="#a8365b"/><stop offset="0.5625" stop-color="#9d2a63"/><stop offset="0.6667" stop-color="#901f6b"/><stop offset="0.7500" stop-color="#89196f"/><stop offset="0.8333" stop-color="#821376"/><stop offset="0.9167" stop-color="#7b0c7f"/><stop offset="1.0000" stop-color="#740886"/></linearGradient><linearGradient id="g78" gradientUnits="userSpaceOnUse" x1="0" y1="277" x2="0" y2="620"><stop offset="0.0000" stop-color="#fad61f"/><stop offset="0.0665" stop-color="#f8c920"/><stop offset="0.0869" stop-color="#e8b91e"/><stop offset="0.0897" stop-color="#e8b91e"/><stop offset="0.1793" stop-color="#e8ad23"/><stop offset="0.2690" stop-color="#e8a127"/><stop offset="0.3586" stop-color="#e7952c"/><stop offset="0.4315" stop-color="#e48b31"/><stop offset="0.5044" stop-color="#e08137"/><stop offset="0.5773" stop-color="#dd773c"/><stop offset="0.6501" stop-color="#d86d42"/><stop offset="0.6939" stop-color="#d26249"/><stop offset="0.7376" stop-color="#cc5750"/><stop offset="0.7813" stop-color="#c54e56"/><stop offset="0.8251" stop-color="#be445c"/><stop offset="0.8688" stop-color="#b13566"/><stop offset="0.9125" stop-color="#a42870"/><stop offset="0.9563" stop-color="#931a78"/><stop offset="1.0000" stop-color="#830c8c"/></linearGradient><linearGradient id="g79" gradientUnits="userSpaceOnUse" x1="0" y1="226" x2="0" y2="600"><stop offset="0.0000" stop-color="#f4ec1d"/><stop offset="0.0381" stop-color="#f2e21d"/><stop offset="0.0568" stop-color="#e3cf1b"/><stop offset="0.0989" stop-color="#e5c91c"/><stop offset="0.1484" stop-color="#e7c01d"/><stop offset="0.1979" stop-color="#e8b91e"/><stop offset="0.2647" stop-color="#e8b022"/><stop offset="0.3316" stop-color="#e8a726"/><stop offset="0.3984" stop-color="#e89d29"/><stop offset="0.4652" stop-color="#e7952c"/><stop offset="0.5321" stop-color="#e38833"/><stop offset="0.5989" stop-color="#e07b3a"/><stop offset="0.6658" stop-color="#d96f41"/><stop offset="0.7326" stop-color="#d36348"/><stop offset="0.7995" stop-color="#c64f55"/><stop offset="0.8663" stop-color="#b63b63"/><stop offset="0.9332" stop-color="#a42870"/><stop offset="1.0000" stop-color="#8d1480"/></linearGradient><linearGradient id="g80" gradientUnits="userSpaceOnUse" x1="0" y1="258" x2="0" y2="600"><stop offset="0.0000" stop-color="#f6e51e"/><stop offset="0.0453" stop-color="#f8de1f"/><stop offset="0.0806" stop-color="#f5d51e"/><stop offset="0.1010" stop-color="#e6c41c"/><stop offset="0.1360" stop-color="#e8be1d"/><stop offset="0.1813" stop-color="#e8b91e"/><stop offset="0.2398" stop-color="#e8b022"/><stop offset="0.2982" stop-color="#e8a726"/><stop offset="0.3567" stop-color="#e89d29"/><stop offset="0.4152" stop-color="#e7952c"/><stop offset="0.4883" stop-color="#e38833"/><stop offset="0.5614" stop-color="#e07b3a"/><stop offset="0.6345" stop-color="#d96f41"/><stop offset="0.7076" stop-color="#d36348"/><stop offset="0.7807" stop-color="#c64f55"/><stop offset="0.8538" stop-color="#b63b63"/><stop offset="0.9269" stop-color="#a42870"/><stop offset="1.0000" stop-color="#8d1480"/></linearGradient><linearGradient id="g81" gradientUnits="userSpaceOnUse" x1="0" y1="235" x2="0" y2="560"><stop offset="0.0000" stop-color="#f4ec1d"/><stop offset="0.0500" stop-color="#f7e11e"/><stop offset="0.0555" stop-color="#f3dd1d"/><stop offset="0.0771" stop-color="#e4c91c"/><stop offset="0.1000" stop-color="#e6c51c"/><stop offset="0.1500" stop-color="#e8bc1e"/><stop offset="0.2000" stop-color="#e8b221"/><stop offset="0.2769" stop-color="#e8a726"/><stop offset="0.3538" stop-color="#e89b29"/><stop offset="0.4308" stop-color="#e5902f"/><stop offset="0.5077" stop-color="#e28534"/><stop offset="0.5692" stop-color="#df793b"/><stop offset="0.6308" stop-color="#d86d42"/><stop offset="0.6923" stop-color="#d2614a"/><stop offset="0.7538" stop-color="#ca5651"/><stop offset="0.8154" stop-color="#bd435d"/><stop offset="0.8769" stop-color="#ac306a"/><stop offset="0.9385" stop-color="#991d76"/><stop offset="1.0000" stop-color="#830c8c"/></linearGradient><linearGradient id="g82" gradientUnits="userSpaceOnUse" x1="0" y1="261" x2="0" y2="540"><stop offset="0.0000" stop-color="#f8de1f"/><stop offset="0.0618" stop-color="#fad51f"/><stop offset="0.1056" stop-color="#f8cb1f"/><stop offset="0.1306" stop-color="#e8bb1e"/><stop offset="0.1855" stop-color="#e8b420"/><stop offset="0.2473" stop-color="#e8ad23"/><stop offset="0.3100" stop-color="#e8a227"/><stop offset="0.3728" stop-color="#e8982b"/><stop offset="0.4355" stop-color="#e58f30"/><stop offset="0.4982" stop-color="#e28534"/><stop offset="0.5699" stop-color="#df793b"/><stop offset="0.6416" stop-color="#d86d42"/><stop offset="0.7133" stop-color="#d2614a"/><stop offset="0.7849" stop-color="#ca5651"/><stop offset="0.8387" stop-color="#bd435d"/><stop offset="0.8925" stop-color="#ac306a"/><stop offset="0.9462" stop-color="#991d76"/><stop offset="1.0000" stop-color="#830c8c"/></linearGradient><linearGradient id="g83" gradientUnits="userSpaceOnUse" x1="0" y1="253" x2="0" y2="520"><stop offset="0.0000" stop-color="#f8de1f"/><stop offset="0.0463" stop-color="#f6d21e"/><stop offset="0.0725" stop-color="#e7c01d"/><stop offset="0.0908" stop-color="#e8be1d"/><stop offset="0.1816" stop-color="#e8b022"/><stop offset="0.2725" stop-color="#e8a227"/><stop offset="0.3633" stop-color="#e7952c"/><stop offset="0.4382" stop-color="#e38833"/><stop offset="0.5131" stop-color="#e07b3a"/><stop offset="0.5880" stop-color="#d96f41"/><stop offset="0.6629" stop-color="#d36348"/><stop offset="0.7285" stop-color="#c85253"/><stop offset="0.7940" stop-color="#bc415e"/><stop offset="0.8596" stop-color="#ad3269"/><stop offset="0.9251" stop-color="#9c2174"/><stop offset="0.9438" stop-color="#961c77"/><stop offset="0.9625" stop-color="#90167d"/><stop offset="0.9813" stop-color="#891185"/><stop offset="1.0000" stop-color="#830c8c"/></linearGradient><linearGradient id="g84" gradientUnits="userSpaceOnUse" x1="0" y1="250" x2="0" y2="515"><stop offset="0.0000" stop-color="#f6e51e"/><stop offset="0.0472" stop-color="#f9d81f"/><stop offset="0.0943" stop-color="#fccc20"/><stop offset="0.0968" stop-color="#f8c820"/><stop offset="0.1232" stop-color="#e8b520"/><stop offset="0.1415" stop-color="#e8b222"/><stop offset="0.1887" stop-color="#e8a726"/><stop offset="0.2453" stop-color="#e89d29"/><stop offset="0.3019" stop-color="#e7952c"/><stop offset="0.3585" stop-color="#e48e30"/><stop offset="0.4151" stop-color="#e28534"/><stop offset="0.4623" stop-color="#e07b3a"/><stop offset="0.5094" stop-color="#db723f"/><stop offset="0.5566" stop-color="#d56846"/><stop offset="0.6038" stop-color="#d05f4b"/><stop offset="0.6604" stop-color="#c95352"/><stop offset="0.7170" stop-color="#c14959"/><stop offset="0.7736" stop-color="#b83e61"/><stop offset="0.8302" stop-color="#ae3368"/><stop offset="0.8726" stop-color="#a42870"/><stop offset="0.9151" stop-color="#971d77"/><stop offset="0.9575" stop-color="#8a1183"/><stop offset="1.0000" stop-color="#7d0991"/></linearGradient><linearGradient id="g85" gradientUnits="userSpaceOnUse" x1="0" y1="300" x2="0" y2="578"><stop offset="0.0000" stop-color="#fccf1f"/><stop offset="0.0719" stop-color="#fcc224"/><stop offset="0.1059" stop-color="#f8b926"/><stop offset="0.1311" stop-color="#e8a825"/><stop offset="0.1439" stop-color="#e8a726"/><stop offset="0.2158" stop-color="#e89b29"/><stop offset="0.2878" stop-color="#e5902f"/><stop offset="0.3417" stop-color="#e08137"/><stop offset="0.3957" stop-color="#db723f"/><stop offset="0.4496" stop-color="#d36348"/><stop offset="0.5036" stop-color="#ca5651"/><stop offset="0.5755" stop-color="#c24b58"/><stop offset="0.6475" stop-color="#ba3f5f"/><stop offset="0.7194" stop-color="#b03466"/><stop offset="0.7914" stop-color="#a6296e"/><stop offset="0.8435" stop-color="#931a78"/><stop offset="0.8957" stop-color="#800b8e"/><stop offset="0.9478" stop-color="#6b049a"/><stop offset="1.0000" stop-color="#550197"/></linearGradient><linearGradient id="g86" gradientUnits="userSpaceOnUse" x1="0" y1="327" x2="0" y2="620"><stop offset="0.0000" stop-color="#fcc921"/><stop offset="0.0623" stop-color="#fcbf25"/><stop offset="0.0908" stop-color="#f8b726"/><stop offset="0.1147" stop-color="#e8a825"/><stop offset="0.1246" stop-color="#e8a726"/><stop offset="0.1869" stop-color="#e89d29"/><stop offset="0.2491" stop-color="#e7952c"/><stop offset="0.3174" stop-color="#e48b31"/><stop offset="0.3857" stop-color="#e08137"/><stop offset="0.4539" stop-color="#dd773c"/><stop offset="0.5222" stop-color="#d86d42"/><stop offset="0.5904" stop-color="#d1604a"/><stop offset="0.6587" stop-color="#c95352"/><stop offset="0.7270" stop-color="#c0475a"/><stop offset="0.7952" stop-color="#b63b63"/><stop offset="0.8464" stop-color="#ab2f6a"/><stop offset="0.8976" stop-color="#9f2373"/><stop offset="0.9488" stop-color="#90177c"/><stop offset="1.0000" stop-color="#830c8c"/></linearGradient><linearGradient id="g87" gradientUnits="userSpaceOnUse" x1="0" y1="312" x2="0" y2="600"><stop offset="0.0000" stop-color="#fcc921"/><stop offset="0.0561" stop-color="#f8bd24"/><stop offset="0.0804" stop-color="#e8ae22"/><stop offset="0.1528" stop-color="#e8a426"/><stop offset="0.2292" stop-color="#e8992a"/><stop offset="0.3056" stop-color="#e5902f"/><stop offset="0.3750" stop-color="#e28435"/><stop offset="0.4444" stop-color="#df793b"/><stop offset="0.5139" stop-color="#d86e42"/><stop offset="0.5833" stop-color="#d36348"/><stop offset="0.6528" stop-color="#ca5651"/><stop offset="0.7222" stop-color="#c14959"/><stop offset="0.7917" stop-color="#b63b63"/><stop offset="0.8611" stop-color="#aa2e6b"/><stop offset="0.8958" stop-color="#a12671"/><stop offset="0.9306" stop-color="#971d77"/><stop offset="0.9653" stop-color="#8d1480"/><stop offset="1.0000" stop-color="#830c8c"/></linearGradient><linearGradient id="g88" gradientUnits="userSpaceOnUse" x1="0" y1="306" x2="0" y2="560"><stop offset="0.0000" stop-color="#fcc921"/><stop offset="0.0598" stop-color="#f8bc24"/><stop offset="0.0874" stop-color="#e8ac23"/><stop offset="0.1457" stop-color="#e8a426"/><stop offset="0.2185" stop-color="#e8992a"/><stop offset="0.2913" stop-color="#e5902f"/><stop offset="0.3602" stop-color="#e28435"/><stop offset="0.4291" stop-color="#df793b"/><stop offset="0.4980" stop-color="#d86e42"/><stop offset="0.5669" stop-color="#d36348"/><stop offset="0.6358" stop-color="#ca5651"/><stop offset="0.7047" stop-color="#c14959"/><stop offset="0.7736" stop-color="#b63b63"/><stop offset="0.8425" stop-color="#aa2e6b"/><stop offset="0.8819" stop-color="#a02472"/><stop offset="0.9213" stop-color="#941b78"/><stop offset="0.9606" stop-color="#891185"/><stop offset="1.0000" stop-color="#7d0991"/></linearGradient><linearGradient id="g89" gradientUnits="userSpaceOnUse" x1="0" y1="383" x2="0" y2="620"><stop offset="0.0000" stop-color="#fca82d"/><stop offset="0.0707" stop-color="#fa9e32"/><stop offset="0.1002" stop-color="#f49834"/><stop offset="0.1297" stop-color="#e38a32"/><stop offset="0.1414" stop-color="#e38833"/><stop offset="0.2120" stop-color="#e07f38"/><stop offset="0.2827" stop-color="#dd773c"/><stop offset="0.3565" stop-color="#d76c43"/><stop offset="0.4304" stop-color="#d2614a"/><stop offset="0.5042" stop-color="#cb5651"/><stop offset="0.5781" stop-color="#c44c57"/><stop offset="0.6414" stop-color="#bc415e"/><stop offset="0.7046" stop-color="#b23765"/><stop offset="0.7679" stop-color="#a72c6d"/><stop offset="0.8312" stop-color="#9c2174"/><stop offset="0.8734" stop-color="#941b78"/><stop offset="0.9156" stop-color="#8d1480"/><stop offset="0.9578" stop-color="#850d8a"/><stop offset="1.0000" stop-color="#7d0991"/></linearGradient><linearGradient id="g90" gradientUnits="userSpaceOnUse" x1="0" y1="375" x2="0" y2="620"><stop offset="0.0000" stop-color="#fca82d"/><stop offset="0.0765" stop-color="#fa9e32"/><stop offset="0.1086" stop-color="#f49834"/><stop offset="0.1371" stop-color="#e38a32"/><stop offset="0.1531" stop-color="#e38833"/><stop offset="0.2296" stop-color="#e07f38"/><stop offset="0.3061" stop-color="#dd773c"/><stop offset="0.3776" stop-color="#d76c43"/><stop offset="0.4490" stop-color="#d2614a"/><stop offset="0.5204" stop-color="#cb5651"/><stop offset="0.5918" stop-color="#c44c57"/><stop offset="0.6531" stop-color="#bc415e"/><stop offset="0.7143" stop-color="#b23765"/><stop offset="0.7755" stop-color="#a72c6d"/><stop offset="0.8367" stop-color="#9c2174"/><stop offset="0.8776" stop-color="#941b78"/><stop offset="0.9184" stop-color="#8d1480"/><stop offset="0.9592" stop-color="#850d8a"/><stop offset="1.0000" stop-color="#7d0991"/></linearGradient><linearGradient id="g91" gradientUnits="userSpaceOnUse" x1="0" y1="380" x2="0" y2="560"><stop offset="0.0000" stop-color="#fba230"/><stop offset="0.0972" stop-color="#f79636"/><stop offset="0.1478" stop-color="#f18d39"/><stop offset="0.1867" stop-color="#e07f38"/><stop offset="0.1944" stop-color="#e07e38"/><stop offset="0.2917" stop-color="#db733f"/><stop offset="0.3889" stop-color="#d56846"/><stop offset="0.4583" stop-color="#cf5c4d"/><stop offset="0.5278" stop-color="#c75154"/><stop offset="0.5972" stop-color="#bf465b"/><stop offset="0.6667" stop-color="#b63b63"/><stop offset="0.7500" stop-color="#a72c6d"/><stop offset="0.8333" stop-color="#971d77"/><stop offset="0.9167" stop-color="#850d8a"/><stop offset="1.0000" stop-color="#720699"/></linearGradient><linearGradient id="g92" gradientUnits="userSpaceOnUse" x1="0" y1="421" x2="0" y2="618"><stop offset="0.0000" stop-color="#e08137"/><stop offset="0.0749" stop-color="#df793b"/><stop offset="0.1497" stop-color="#db723f"/><stop offset="0.2246" stop-color="#d66b44"/><stop offset="0.2995" stop-color="#d36348"/><stop offset="0.3756" stop-color="#cf5c4d"/><stop offset="0.4518" stop-color="#ca5651"/><stop offset="0.5279" stop-color="#c64f55"/><stop offset="0.6041" stop-color="#c14959"/><stop offset="0.6675" stop-color="#b93f60"/><stop offset="0.7310" stop-color="#b03466"/><stop offset="0.7944" stop-color="#a72b6d"/><stop offset="0.8579" stop-color="#9c2174"/><stop offset="0.8934" stop-color="#931a78"/><stop offset="0.9289" stop-color="#8a1183"/><stop offset="0.9645" stop-color="#810b8d"/><stop offset="1.0000" stop-color="#780795"/></linearGradient><linearGradient id="g93" gradientUnits="userSpaceOnUse" x1="0" y1="357" x2="0" y2="640"><stop offset="0.0000" stop-color="#fa9f31"/><stop offset="0.0027" stop-color="#fa9f31"/><stop offset="0.0053" stop-color="#fa9f31"/><stop offset="0.0080" stop-color="#fa9f32"/><stop offset="0.0106" stop-color="#fa9e32"/><stop offset="0.0459" stop-color="#f99b34"/><stop offset="0.0813" stop-color="#f89736"/><stop offset="0.1007" stop-color="#f39336"/><stop offset="0.1254" stop-color="#e28734"/><stop offset="0.1519" stop-color="#e28434"/><stop offset="0.1961" stop-color="#e07e38"/><stop offset="0.2403" stop-color="#de783b"/><stop offset="0.2845" stop-color="#db723f"/><stop offset="0.3286" stop-color="#d76c43"/><stop offset="0.3728" stop-color="#d56646"/><stop offset="0.4170" stop-color="#d1604a"/><stop offset="0.4611" stop-color="#cd5a4e"/><stop offset="0.5053" stop-color="#c95551"/><stop offset="0.5495" stop-color="#c54e55"/><stop offset="0.5936" stop-color="#c0485a"/><stop offset="0.6378" stop-color="#bc415e"/><stop offset="0.6820" stop-color="#b53a63"/><stop offset="0.7261" stop-color="#ae3368"/><stop offset="0.7703" stop-color="#a72b6d"/><stop offset="0.8145" stop-color="#9f2372"/><stop offset="0.8587" stop-color="#961c77"/><stop offset="0.8940" stop-color="#8d1480"/><stop offset="0.9293" stop-color="#840d8b"/><stop offset="0.9647" stop-color="#7a0993"/><stop offset="1.0000" stop-color="#700699"/></linearGradient><linearGradient id="g94" gradientUnits="userSpaceOnUse" x1="0" y1="408" x2="0" y2="640"><stop offset="0.0000" stop-color="#f69139"/><stop offset="0.0453" stop-color="#f48c3c"/><stop offset="0.0905" stop-color="#f2863f"/><stop offset="0.1188" stop-color="#ed8040"/><stop offset="0.1489" stop-color="#dc743e"/><stop offset="0.1810" stop-color="#da7140"/><stop offset="0.2349" stop-color="#d76b43"/><stop offset="0.2888" stop-color="#d46447"/><stop offset="0.3427" stop-color="#d15f4b"/><stop offset="0.3966" stop-color="#cd594f"/><stop offset="0.4504" stop-color="#c85353"/><stop offset="0.5043" stop-color="#c34b57"/><stop offset="0.5582" stop-color="#be455b"/><stop offset="0.6121" stop-color="#b93f5f"/><stop offset="0.6659" stop-color="#b23765"/><stop offset="0.7198" stop-color="#ab306a"/><stop offset="0.7737" stop-color="#a42870"/><stop offset="0.8276" stop-color="#9b2075"/><stop offset="0.8707" stop-color="#92197a"/><stop offset="0.9138" stop-color="#891184"/><stop offset="0.9569" stop-color="#800b8e"/><stop offset="1.0000" stop-color="#760796"/></linearGradient><linearGradient id="g95" gradientUnits="userSpaceOnUse" x1="0" y1="363" x2="0" y2="640"><stop offset="0.0000" stop-color="#f99d33"/><stop offset="0.0334" stop-color="#f89935"/><stop offset="0.0668" stop-color="#f79636"/><stop offset="0.0960" stop-color="#f29137"/><stop offset="0.1213" stop-color="#e28534"/><stop offset="0.1336" stop-color="#e18435"/><stop offset="0.1787" stop-color="#e07e38"/><stop offset="0.2238" stop-color="#de783c"/><stop offset="0.2690" stop-color="#da713f"/><stop offset="0.3141" stop-color="#d76c43"/><stop offset="0.3592" stop-color="#d46547"/><stop offset="0.4043" stop-color="#d1604a"/><stop offset="0.4495" stop-color="#cd594e"/><stop offset="0.4946" stop-color="#c95452"/><stop offset="0.5397" stop-color="#c54d56"/><stop offset="0.5848" stop-color="#bf475a"/><stop offset="0.6300" stop-color="#bb405f"/><stop offset="0.6751" stop-color="#b43a63"/><stop offset="0.7202" stop-color="#ae3369"/><stop offset="0.7653" stop-color="#a72a6e"/><stop offset="0.8105" stop-color="#9e2373"/><stop offset="0.8556" stop-color="#951c78"/><stop offset="0.8917" stop-color="#8d1380"/><stop offset="0.9278" stop-color="#840c8c"/><stop offset="0.9639" stop-color="#790893"/><stop offset="1.0000" stop-color="#700699"/></linearGradient><linearGradient id="g96" gradientUnits="userSpaceOnUse" x1="0" y1="425" x2="0" y2="620"><stop offset="0.0000" stop-color="#f3863f"/><stop offset="0.0321" stop-color="#f18341"/><stop offset="0.0641" stop-color="#f08042"/><stop offset="0.0962" stop-color="#ee7c45"/><stop offset="0.1282" stop-color="#ec7947"/><stop offset="0.1705" stop-color="#e67348"/><stop offset="0.2064" stop-color="#d56846"/><stop offset="0.2564" stop-color="#d36348"/><stop offset="0.3205" stop-color="#d05d4c"/><stop offset="0.3846" stop-color="#cc5750"/><stop offset="0.4487" stop-color="#c75154"/><stop offset="0.5128" stop-color="#c24b58"/><stop offset="0.5769" stop-color="#be445c"/><stop offset="0.6410" stop-color="#b83e61"/><stop offset="0.7051" stop-color="#b13566"/><stop offset="0.7692" stop-color="#aa2e6b"/><stop offset="0.8333" stop-color="#a32771"/><stop offset="0.8974" stop-color="#9a1e75"/><stop offset="0.9231" stop-color="#951b78"/><stop offset="0.9487" stop-color="#90177c"/><stop offset="0.9744" stop-color="#8c1381"/><stop offset="1.0000" stop-color="#871086"/></linearGradient><linearGradient id="g97" gradientUnits="userSpaceOnUse" x1="0" y1="489" x2="0" y2="640"><stop offset="0.0000" stop-color="#eb7648"/><stop offset="0.0182" stop-color="#ea7549"/><stop offset="0.0364" stop-color="#e9734a"/><stop offset="0.0546" stop-color="#e8724b"/><stop offset="0.0728" stop-color="#e8714c"/><stop offset="0.1556" stop-color="#e46951"/><stop offset="0.2139" stop-color="#dd6253"/><stop offset="0.2603" stop-color="#cc5750"/><stop offset="0.3212" stop-color="#c95353"/><stop offset="0.4040" stop-color="#c44c57"/><stop offset="0.4868" stop-color="#be455b"/><stop offset="0.5695" stop-color="#b83d61"/><stop offset="0.6523" stop-color="#b13566"/><stop offset="0.7351" stop-color="#a92e6c"/><stop offset="0.8013" stop-color="#a22671"/><stop offset="0.8675" stop-color="#991e75"/><stop offset="0.9338" stop-color="#90177c"/><stop offset="1.0000" stop-color="#870f87"/></linearGradient><linearGradient id="g98" gradientUnits="userSpaceOnUse" x1="0" y1="537" x2="0" y2="660"><stop offset="0.0000" stop-color="#e56c4e"/><stop offset="0.0264" stop-color="#e46a50"/><stop offset="0.0528" stop-color="#e36851"/><stop offset="0.0793" stop-color="#e26652"/><stop offset="0.1057" stop-color="#e16453"/><stop offset="0.2073" stop-color="#db5b59"/><stop offset="0.3089" stop-color="#d5535e"/><stop offset="0.3398" stop-color="#d0505f"/><stop offset="0.3967" stop-color="#bf465b"/><stop offset="0.4106" stop-color="#be455b"/><stop offset="0.5122" stop-color="#b83d61"/><stop offset="0.5935" stop-color="#b13566"/><stop offset="0.6748" stop-color="#a92e6c"/><stop offset="0.7561" stop-color="#a22671"/><stop offset="0.8374" stop-color="#9a1e75"/><stop offset="0.8780" stop-color="#981d76"/><stop offset="0.9187" stop-color="#961c77"/><stop offset="0.9593" stop-color="#941a78"/><stop offset="1.0000" stop-color="#921979"/></linearGradient><linearGradient id="g99" gradientUnits="userSpaceOnUse" x1="0" y1="463" x2="0" y2="512"><stop offset="0.0000" stop-color="#9c2174"/><stop offset="0.2500" stop-color="#941b78"/><stop offset="0.5000" stop-color="#8d1480"/><stop offset="0.7500" stop-color="#850d8a"/><stop offset="1.0000" stop-color="#7d0991"/></linearGradient><linearGradient id="g100" gradientUnits="userSpaceOnUse" x1="0" y1="520" x2="0" y2="576"><stop offset="0.0000" stop-color="#780795"/><stop offset="0.2500" stop-color="#6d059a"/><stop offset="0.5000" stop-color="#63019b"/><stop offset="0.7500" stop-color="#590199"/><stop offset="1.0000" stop-color="#4e0295"/></linearGradient><linearGradient id="g101" gradientUnits="userSpaceOnUse" x1="0" y1="470" x2="0" y2="648"><stop offset="0.0000" stop-color="#fa9f31"/><stop offset="0.1124" stop-color="#f58e3b"/><stop offset="0.1601" stop-color="#ef843d"/><stop offset="0.1994" stop-color="#dd773c"/><stop offset="0.2247" stop-color="#db733f"/><stop offset="0.3371" stop-color="#d46448"/><stop offset="0.4494" stop-color="#ca5651"/><stop offset="0.5197" stop-color="#c24b58"/><stop offset="0.5899" stop-color="#ba3f5f"/><stop offset="0.6601" stop-color="#b03466"/><stop offset="0.7303" stop-color="#a6296e"/><stop offset="0.7978" stop-color="#9b2075"/><stop offset="0.8652" stop-color="#90167d"/><stop offset="0.9326" stop-color="#840c8b"/><stop offset="1.0000" stop-color="#780795"/></linearGradient><linearGradient id="g102" gradientUnits="userSpaceOnUse" x1="0" y1="457" x2="0" y2="640"><stop offset="0.0000" stop-color="#fba230"/><stop offset="0.1134" stop-color="#f69338"/><stop offset="0.1713" stop-color="#f0893b"/><stop offset="0.2096" stop-color="#e07b3a"/><stop offset="0.2268" stop-color="#df793b"/><stop offset="0.3402" stop-color="#d76c43"/><stop offset="0.4536" stop-color="#d05f4b"/><stop offset="0.5355" stop-color="#c95352"/><stop offset="0.6175" stop-color="#c14959"/><stop offset="0.6995" stop-color="#b83e61"/><stop offset="0.7814" stop-color="#ae3368"/><stop offset="0.8361" stop-color="#a6296e"/><stop offset="0.8907" stop-color="#9c2174"/><stop offset="0.9454" stop-color="#92187a"/><stop offset="1.0000" stop-color="#871086"/></linearGradient><linearGradient id="g103" gradientUnits="userSpaceOnUse" x1="0" y1="437" x2="0" y2="640"><stop offset="0.0000" stop-color="#fba230"/><stop offset="0.1022" stop-color="#f69338"/><stop offset="0.1357" stop-color="#f18c3a"/><stop offset="0.1702" stop-color="#e07e38"/><stop offset="0.2044" stop-color="#df793b"/><stop offset="0.3067" stop-color="#d76c43"/><stop offset="0.4089" stop-color="#d05f4b"/><stop offset="0.4828" stop-color="#c95352"/><stop offset="0.5567" stop-color="#c14959"/><stop offset="0.6305" stop-color="#b83e61"/><stop offset="0.7044" stop-color="#ae3368"/><stop offset="0.7783" stop-color="#a5286f"/><stop offset="0.8522" stop-color="#9a1e75"/><stop offset="0.9261" stop-color="#8e157e"/><stop offset="1.0000" stop-color="#830c8c"/></linearGradient><linearGradient id="g104" gradientUnits="userSpaceOnUse" x1="0" y1="487" x2="0" y2="660"><stop offset="0.0000" stop-color="#ee7c45"/><stop offset="0.1702" stop-color="#e2694e"/><stop offset="0.2107" stop-color="#d1604a"/><stop offset="0.2500" stop-color="#cf5c4d"/><stop offset="0.5000" stop-color="#c0485a"/><stop offset="0.7500" stop-color="#b03467"/><stop offset="1.0000" stop-color="#9b2075"/></linearGradient><linearGradient id="g105" gradientUnits="userSpaceOnUse" x1="0" y1="486" x2="0" y2="660"><stop offset="0.0000" stop-color="#ee7c45"/><stop offset="0.1693" stop-color="#e2694e"/><stop offset="0.2095" stop-color="#d1604a"/><stop offset="0.2500" stop-color="#cf5c4d"/><stop offset="0.5000" stop-color="#c0485a"/><stop offset="0.7500" stop-color="#af3467"/><stop offset="1.0000" stop-color="#9b2075"/></linearGradient><linearGradient id="g106" gradientUnits="userSpaceOnUse" x1="0" y1="548" x2="0" y2="690"><stop offset="0.0000" stop-color="#e8714c"/><stop offset="0.2500" stop-color="#dd5e57"/><stop offset="0.2743" stop-color="#d95b57"/><stop offset="0.3236" stop-color="#c85253"/><stop offset="0.5000" stop-color="#bf465b"/><stop offset="0.7500" stop-color="#b23666"/><stop offset="1.0000" stop-color="#a22671"/></linearGradient><linearGradient id="g107" gradientUnits="userSpaceOnUse" x1="0" y1="524" x2="0" y2="720"><stop offset="0.0000" stop-color="#f58f3a"/><stop offset="0.1224" stop-color="#f18241"/><stop offset="0.1648" stop-color="#ea7b43"/><stop offset="0.2005" stop-color="#d97040"/><stop offset="0.2449" stop-color="#d76c43"/><stop offset="0.3673" stop-color="#d1614a"/><stop offset="0.4898" stop-color="#ca5651"/><stop offset="0.5918" stop-color="#c44c57"/><stop offset="0.6939" stop-color="#be445c"/><stop offset="0.7959" stop-color="#b63b63"/><stop offset="0.8980" stop-color="#ae3368"/><stop offset="0.9235" stop-color="#aa2e6b"/><stop offset="0.9490" stop-color="#a6296e"/><stop offset="0.9745" stop-color="#a12671"/><stop offset="1.0000" stop-color="#9c2174"/></linearGradient><linearGradient id="g108" gradientUnits="userSpaceOnUse" x1="0" y1="513" x2="0" y2="720"><stop offset="0.0000" stop-color="#f58f3a"/><stop offset="0.1051" stop-color="#f18241"/><stop offset="0.1560" stop-color="#e97944"/><stop offset="0.1899" stop-color="#d86d42"/><stop offset="0.2101" stop-color="#d76c43"/><stop offset="0.3152" stop-color="#d1614a"/><stop offset="0.4203" stop-color="#ca5651"/><stop offset="0.5169" stop-color="#c34b58"/><stop offset="0.6135" stop-color="#bc415e"/><stop offset="0.7101" stop-color="#b23864"/><stop offset="0.8068" stop-color="#aa2e6b"/><stop offset="0.8551" stop-color="#a5286f"/><stop offset="0.9034" stop-color="#9f2373"/><stop offset="0.9517" stop-color="#991d76"/><stop offset="1.0000" stop-color="#92187a"/></linearGradient><linearGradient id="g109" gradientUnits="userSpaceOnUse" x1="0" y1="622" x2="0" y2="790"><stop offset="0.0000" stop-color="#e8714c"/><stop offset="0.2149" stop-color="#da5d56"/><stop offset="0.2565" stop-color="#c95352"/><stop offset="0.5000" stop-color="#bb405f"/><stop offset="0.7500" stop-color="#a92d6c"/><stop offset="1.0000" stop-color="#941a78"/></linearGradient><linearGradient id="g110" gradientUnits="userSpaceOnUse" x1="0" y1="609" x2="0" y2="770"><stop offset="0.0000" stop-color="#e9744a"/><stop offset="0.1829" stop-color="#de6252"/><stop offset="0.2264" stop-color="#cc584f"/><stop offset="0.2500" stop-color="#cb5650"/><stop offset="0.5000" stop-color="#be445c"/><stop offset="0.7500" stop-color="#ad3269"/><stop offset="1.0000" stop-color="#9a1f75"/></linearGradient><linearGradient id="g111" gradientUnits="userSpaceOnUse" x1="0" y1="580" x2="0" y2="750"><stop offset="0.0000" stop-color="#eb7648"/><stop offset="0.1844" stop-color="#df6351"/><stop offset="0.2256" stop-color="#cd594e"/><stop offset="0.2500" stop-color="#cc574f"/><stop offset="0.5000" stop-color="#be445c"/><stop offset="0.7500" stop-color="#ac316a"/><stop offset="1.0000" stop-color="#981d76"/></linearGradient><linearGradient id="g112" gradientUnits="userSpaceOnUse" x1="0" y1="571" x2="0" y2="745"><stop offset="0.0000" stop-color="#eb7648"/><stop offset="0.2500" stop-color="#dd5f57"/><stop offset="0.2730" stop-color="#d95c56"/><stop offset="0.3132" stop-color="#c85253"/><stop offset="0.5000" stop-color="#be435c"/><stop offset="0.7500" stop-color="#ab2f6a"/><stop offset="1.0000" stop-color="#961c77"/></linearGradient><linearGradient id="g113" gradientUnits="userSpaceOnUse" x1="0" y1="725" x2="0" y2="850"><stop offset="0.0000" stop-color="#ca5651"/><stop offset="0.1300" stop-color="#c75054"/><stop offset="0.2600" stop-color="#c24b58"/><stop offset="0.3900" stop-color="#be455b"/><stop offset="0.5200" stop-color="#ba3f5f"/><stop offset="0.6400" stop-color="#b23864"/><stop offset="0.7600" stop-color="#ac306a"/><stop offset="0.8800" stop-color="#a5286f"/><stop offset="1.0000" stop-color="#9c2174"/></linearGradient><linearGradient id="g114" gradientUnits="userSpaceOnUse" x1="0" y1="718" x2="0" y2="828"><stop offset="0.0000" stop-color="#ca5651"/><stop offset="0.1182" stop-color="#c75054"/><stop offset="0.2364" stop-color="#c24b58"/><stop offset="0.3545" stop-color="#be455b"/><stop offset="0.4727" stop-color="#ba3f5f"/><stop offset="0.6045" stop-color="#b23864"/><stop offset="0.7364" stop-color="#ac306a"/><stop offset="0.8682" stop-color="#a5286f"/><stop offset="1.0000" stop-color="#9c2174"/></linearGradient><linearGradient id="g115" gradientUnits="userSpaceOnUse" x1="0" y1="694" x2="0" y2="804"><stop offset="0.0000" stop-color="#ca5651"/><stop offset="0.1273" stop-color="#c75054"/><stop offset="0.2545" stop-color="#c24b58"/><stop offset="0.3818" stop-color="#be455b"/><stop offset="0.5091" stop-color="#ba3f5f"/><stop offset="0.6318" stop-color="#b23864"/><stop offset="0.7545" stop-color="#ac306a"/><stop offset="0.8773" stop-color="#a5286f"/><stop offset="1.0000" stop-color="#9c2174"/></linearGradient><linearGradient id="g116" gradientUnits="userSpaceOnUse" x1="0" y1="675" x2="0" y2="780"><stop offset="0.0000" stop-color="#ca5651"/><stop offset="0.1310" stop-color="#c75054"/><stop offset="0.2619" stop-color="#c24b58"/><stop offset="0.3929" stop-color="#be455b"/><stop offset="0.5238" stop-color="#ba3f5f"/><stop offset="0.6429" stop-color="#b23864"/><stop offset="0.7619" stop-color="#ac306a"/><stop offset="0.8810" stop-color="#a5286f"/><stop offset="1.0000" stop-color="#9c2174"/></linearGradient><linearGradient id="g117" gradientUnits="userSpaceOnUse" x1="0" y1="652" x2="0" y2="763"><stop offset="0.0000" stop-color="#ca5651"/><stop offset="0.1306" stop-color="#c75054"/><stop offset="0.2613" stop-color="#c24b58"/><stop offset="0.3919" stop-color="#be455b"/><stop offset="0.5225" stop-color="#ba3f5f"/><stop offset="0.6419" stop-color="#b23864"/><stop offset="0.7613" stop-color="#ac306a"/><stop offset="0.8806" stop-color="#a5286f"/><stop offset="1.0000" stop-color="#9c2174"/></linearGradient><linearGradient id="g118" gradientUnits="userSpaceOnUse" x1="0" y1="650" x2="0" y2="746"><stop offset="0.0000" stop-color="#ca5651"/><stop offset="0.1302" stop-color="#c75054"/><stop offset="0.2604" stop-color="#c24b58"/><stop offset="0.3906" stop-color="#be455b"/><stop offset="0.5208" stop-color="#ba3f5f"/><stop offset="0.6406" stop-color="#b23864"/><stop offset="0.7604" stop-color="#ac306a"/><stop offset="0.8802" stop-color="#a5286f"/><stop offset="1.0000" stop-color="#9c2174"/></linearGradient><linearGradient id="g119" gradientUnits="userSpaceOnUse" x1="0" y1="628" x2="0" y2="729"><stop offset="0.0000" stop-color="#ca5651"/><stop offset="0.1287" stop-color="#c75054"/><stop offset="0.2574" stop-color="#c24b58"/><stop offset="0.3861" stop-color="#be455b"/><stop offset="0.5149" stop-color="#ba3f5f"/><stop offset="0.6361" stop-color="#b23864"/><stop offset="0.7574" stop-color="#ac306a"/><stop offset="0.8787" stop-color="#a5286f"/><stop offset="1.0000" stop-color="#9c2174"/></linearGradient><linearGradient id="g120" gradientUnits="userSpaceOnUse" x1="0" y1="620" x2="0" y2="722"><stop offset="0.0000" stop-color="#ca5651"/><stop offset="0.1225" stop-color="#c75054"/><stop offset="0.2451" stop-color="#c24b58"/><stop offset="0.3676" stop-color="#be455b"/><stop offset="0.4902" stop-color="#ba3f5f"/><stop offset="0.6176" stop-color="#b23864"/><stop offset="0.7451" stop-color="#ac306a"/><stop offset="0.8725" stop-color="#a5286f"/><stop offset="1.0000" stop-color="#9c2174"/></linearGradient><filter id="soft" x="0" y="0" width="1" height="1"><feGaussianBlur stdDeviation="0.9"/></filter></defs>
<rect width="1404" height="1172" fill="#fff"/>
<g filter="url(#soft)">
<polygon points="42,227 658,167 1006,389 1005,636 940,885 320,1049 320,1064 192,1090 59,296 53,292" fill="#e5ebf5"/>
<g clip-path="url(#fc)"><path d="M50.3,226.2 C104.7,623.9 156.5,844.9 206.9,1110.0 M86.1,222.7 C136.0,622.0 197.4,843.8 254.7,1110.0 M121.4,219.3 C166.9,620.1 238.3,842.8 302.4,1110.0 M156.2,215.9 C197.3,618.2 279.1,841.8 350.1,1110.0 M190.7,212.5 C227.2,616.4 319.8,840.8 397.9,1110.0 M224.6,209.2 C256.8,614.6 360.5,839.8 445.6,1110.0 M258.1,205.9 C285.9,612.8 401.2,838.8 493.4,1110.0 M291.1,202.7 C314.6,611.0 441.8,837.8 541.1,1110.0 M323.7,199.5 C342.8,609.2 482.4,836.9 588.9,1110.0 M355.8,196.4 C370.7,607.5 522.9,835.9 636.6,1110.0 M387.5,193.3 C398.1,605.8 563.4,835.0 684.4,1110.0 M418.7,190.3 C425.1,604.1 603.8,834.1 732.1,1110.0 M449.5,187.3 C451.6,602.5 644.3,833.2 779.9,1110.0 M479.8,184.3 C477.8,600.9 684.6,832.3 827.6,1110.0 M509.6,181.4 C503.5,599.3 725.0,831.4 875.4,1110.0 M539.0,178.5 C528.8,597.7 765.3,830.6 923.1,1110.0 M567.9,175.7 C553.7,596.1 805.5,829.7 970.9,1110.0 M596.4,172.9 C578.1,594.6 845.8,828.9 1018.6,1110.0 M624.4,170.2 C602.2,593.1 886.0,828.1 1066.4,1110.0 M652.0,167.5 C625.8,591.6 926.1,827.3 1114.2,1110.0 M30.0,366.2 L900.0,254.8 M30.0,469.5 L900.0,356.4 M30.0,573.0 L900.0,457.2 M30.0,676.5 L900.0,557.4 M30.0,780.0 L900.0,658.2 M30.0,881.5 L900.0,751.0 M30.0,1013.5 L900.0,796.0" fill="none" stroke="#f3f6fc" stroke-width="3"/></g>
<g clip-path="url(#rc)"><path d="M630,276 L645,288 L708,333 L768,381 L841,441 L891,480 L931,515 L1010,583 M640,380 L700,430 L760,482 L820,540 L880,606 L930,682 L977,734 L1010,775 M650,480 L720,560 L790,650 L849,740 L942,850 L960,880 M670,580 L740,660 L800,740 L860,810 L920,880 M717,205 L708,333 L697,480 L685,600 M655,168 L653,300 L651,480 M786,251 L777,331 L763,422 L745,560 M866,304 L852,377 L840,444 L828,527 L810,640 M961,363 L943,480 L928,515 L904,623 L887,722 L875,786 L869,815 L860,860" fill="none" stroke="#f3f6fc" stroke-width="3"/></g>
<ellipse cx="151.7" cy="638.4" rx="16.6" ry="11" fill="none" stroke="#a24a9e" stroke-opacity="0.85" stroke-width="2.6" stroke-linecap="round"/>
<ellipse cx="161" cy="679.4" rx="17" ry="12.8" fill="none" stroke="#a24a9e" stroke-opacity="0.85" stroke-width="2.6" stroke-linecap="round"/>
<ellipse cx="170" cy="723" rx="19" ry="14.5" fill="none" stroke="#a24a9e" stroke-opacity="0.85" stroke-width="2.6" stroke-linecap="round"/>
<path d="M214,611 A10,11 0 0 0 214,633 M224.3,648 A11,12 0 0 0 224.3,672 M220,705.8 A13,11 0 0 0 246,705.8 M233,747 Q243.5,742 254,743 L253,745 M240,771 Q249.5,764 259,765.4 L258,768.2 M247,805 Q255.5,793 264,795.4 L263,800.2 M256,824 Q273,812 290,814.4 L289,819.2 M264,853.4 Q275.7,843 287.4,845.6 Q303,846.9 303,856 M271,889 Q289.5,870 308,873.8 L307,881.4 M278,919.6 Q291.2,906 304.4,909.4 Q322,911.1 322,923 M315,757 Q323.5,744 332,746.6 L331,751.8 M329.4,781 Q313.2,798 327.6,815 M338.4,782.7 Q352.8,798 336.6,815 M326,850.2 Q338,831 350,835.8 Q366,838.2 366,855 M334,877 Q353.5,861 373,864.2 L372,870.6 M434.4,873 Q413.7,896.5 432.1,920 M445.9,875.35 Q464.3,896.5 443.6,920 M448,953 l1,0 M467,942 l1,0 M499.2,854 Q477.6,878 496.8,902 M511.2,856.4 Q530.4,878 508.8,902 M518,932 l1,0 M525,922 l1,0 M526,826 Q545,810 564,813.2 L563,819.6 M562.8,836 Q539.4,860 560.2,884 M575.8,838.4 Q596.6,860 573.2,884 M590,908 l1,0 M601,904 l1,0 M625.2,824 Q601.35,847 622.55,870 M638.45,826.3 Q659.65,847 635.8,870 M647,892 l1,0 M662,886 l1,0 M645,785.6 Q662,801.2 679,770 M666,778 l1,0 M675,772 l1,0 M711,776 Q724.5,759 738,762.4 L737,769.2 M719.6,759 Q704.3,769.5 717.9,780 M728.1,760.05 Q741.7,769.5 726.4,780 M727,803.4 Q736.6,789 746.2,792.6 Q759,794.4 759,807 M749,829.4 Q764,837.8 779,821 M770,860 Q783.5,846 797,848.8 L796,854.4 M763,766 Q781.5,750 800,753.2 L799,759.6 M788,787.8 Q797,775 806,778.2 Q818,779.8 818,791 M809,812.6 Q823.5,822.2 838,803 M831,839 l1,0 M851,834 l1,0" fill="none" stroke="#a24a9e" stroke-opacity="0.85" stroke-width="2.6" stroke-linecap="round"/>
<polygon points="109,427.4 110.3,419.5 113.8,416.8 118.9,416.4 124,417 128.4,419.5 131,426.3 131,499.4 127.9,502.5 120,503.3 111.6,502.2 109,499.4" fill="url(#g0)"/>
<polygon points="112,431.5 113.4,423.3 117,420.6 122.2,420.1 127.5,420.8 132,423.3 134.7,430.4 134.7,526.9 131.5,530.1 123.4,531 114.7,529.9 112,526.9" fill="url(#g1)"/>
<polygon points="115,440 116.4,431.5 120.2,428.7 125.6,428.2 130.9,428.9 135.6,431.5 138.5,438.8 138.5,543.3 135.2,546.6 126.7,547.5 117.8,546.3 115,543.3" fill="url(#g2)"/>
<polygon points="118,457.7 119.5,449 123.3,446.1 128.9,445.6 134.4,446.4 139.3,449 142.2,456.5 142.2,559.6 138.8,563 130.1,564 120.9,562.8 118,559.6" fill="url(#g3)"/>
<polygon points="121,478.1 122.5,469.1 126.5,466.1 132.2,465.6 137.9,466.3 142.9,469.1 145.9,476.8 145.9,571.5 142.4,575 133.5,576 124,574.8 121,571.5" fill="url(#g4)"/>
<polygon points="124,489.8 125.5,480.5 129.6,477.5 135.5,477 141.4,477.7 146.6,480.5 149.6,488.5 149.6,583.4 146,587 136.8,588 127.1,586.7 124,583.4" fill="url(#g5)"/>
<polygon points="127,492.1 128.6,482.6 132.8,479.5 138.9,478.9 144.9,479.7 150.2,482.6 153.4,490.8 153.4,595.3 149.7,598.9 140.2,600 130.2,598.7 127,595.3" fill="url(#g6)"/>
<polygon points="130,498.4 131.6,488.6 136,485.4 142.2,484.8 148.4,485.6 153.8,488.6 157.1,497 157.1,599.7 153.3,603.5 143.5,604.6 133.3,603.2 130,599.7" fill="url(#g7)"/>
<polygon points="133,509.2 134.7,499.2 139.1,495.9 145.5,495.3 151.9,496.2 157.5,499.2 160.8,507.8 160.8,604.2 156.9,608.1 146.9,609.2 136.3,607.8 133,604.2" fill="url(#g8)"/>
<polygon points="136,523.1 137.7,512.8 142.3,509.4 148.8,508.8 155.4,509.7 161.1,512.8 164.5,521.7 164.5,608.7 160.5,612.7 150.3,613.8 139.4,612.4 136,608.7" fill="url(#g9)"/>
<polygon points="139,537 140.8,526.4 145.4,522.9 152.2,522.3 158.9,523.2 164.8,526.4 168.3,535.5 168.3,613.1 164.2,617.2 153.6,618.4 142.5,616.9 139,613.1" fill="url(#g10)"/>
<polygon points="142,552.5 143.8,541.7 148.6,538.1 155.5,537.5 162.4,538.4 168.4,541.7 172,551 172,617 167.8,621.2 157,622.4 145.6,620.9 142,617" fill="url(#g11)"/>
<polyline points="120.5,431 133.3,495 151.2,610" fill="none" stroke="#ffe0ea" stroke-opacity="0.6" stroke-width="2.4" stroke-linejoin="round"/>
<polygon points="180,437 181.8,426.2 186.6,422.6 193.5,422 200.4,422.9 206.4,426.2 210,435.5 210,498.6 205.8,502.8 195,504 183.6,502.5 180,498.6" fill="url(#g13)"/>
<polygon points="184,443.4 185.8,432.3 190.8,428.6 197.9,428 204.9,428.9 211.1,432.3 214.8,441.9 214.8,521.5 210.5,525.8 199.4,527 187.7,525.5 184,521.5" fill="url(#g14)"/>
<polygon points="188,448.2 189.9,436.8 194.9,433 202.2,432.4 209.5,433.4 215.8,436.8 219.6,446.6 219.6,544.3 215.1,548.7 203.8,550 191.8,548.4 188,544.3" fill="url(#g15)"/>
<polygon points="192,452.2 193.9,440.6 199.1,436.7 206.6,436.1 214,437 220.5,440.6 224.3,450.6 224.3,553.4 219.8,557.9 208.2,559.2 195.9,557.6 192,553.4" fill="url(#g16)"/>
<polygon points="196,461.3 198,449.4 203.3,445.4 210.9,444.7 218.5,445.7 225.2,449.4 229.1,459.6 229.1,562.5 224.5,567.1 212.6,568.5 200,566.8 196,562.5" fill="url(#g17)"/>
<polygon points="200,470.3 202,458.1 207.5,454.1 215.3,453.4 223.1,454.4 229.8,458.1 233.9,468.7 233.9,571.6 229.2,576.3 217,577.7 204.1,576 200,571.6" fill="url(#g18)"/>
<polygon points="204,479.8 206.1,467.3 211.6,463.1 219.6,462.4 227.6,463.5 234.5,467.3 238.7,478 238.7,581.3 233.8,586.1 221.3,587.5 208.2,585.8 204,581.3" fill="url(#g19)"/>
<polygon points="208,491.9 210.1,479.1 215.8,474.9 224,474.2 232.1,475.2 239.2,479.1 243.5,490.1 243.5,591.1 238.5,596.1 225.7,597.5 212.3,595.7 208,591.1" fill="url(#g20)"/>
<polygon points="212,504 214.2,491 220,486.6 228.3,485.9 236.7,487 243.9,491 248.3,502.2 248.3,601 243.2,606 230.1,607.5 216.4,605.7 212,601" fill="url(#g21)"/>
<polygon points="216,518.1 218.2,504.8 224.1,500.3 232.7,499.6 241.2,500.7 248.6,504.8 253,516.3 253,610.8 247.9,616 234.5,617.5 220.4,615.6 216,610.8" fill="url(#g22)"/>
<polygon points="220,532.5 222.3,518.8 228.3,514.3 237,513.5 245.7,514.7 253.3,518.8 257.8,530.6 257.8,623.4 252.5,628.7 238.9,630.2 224.5,628.3 220,623.4" fill="url(#g23)"/>
<polygon points="224,552.5 226.3,538.6 232.5,533.9 241.4,533.2 250.3,534.3 258,538.6 262.6,550.5 262.6,636.9 257.2,642.3 243.3,643.8 228.6,641.9 224,636.9" fill="url(#g24)"/>
<polygon points="228,573.7 230.4,559.5 236.7,554.8 245.7,554 254.8,555.2 262.7,559.5 267.4,571.7 267.4,650.3 261.9,655.8 247.7,657.4 232.7,655.4 228,650.3" fill="url(#g25)"/>
<polygon points="232,585.4 234.4,570.9 240.8,566.1 250.1,565.3 259.3,566.5 267.4,570.9 272.2,583.4 272.2,663.8 266.5,669.4 252.1,671 236.8,669 232,663.8" fill="url(#g26)"/>
<polygon points="236,597.2 238.5,582.4 245,577.5 254.4,576.7 263.9,577.9 272,582.4 277,595.1 277,679.3 271.2,685.1 256.5,686.7 240.9,684.6 236,679.3" fill="url(#g27)"/>
<polygon points="240,609.7 242.5,594.7 249.2,589.6 258.8,588.8 268.4,590.1 276.7,594.7 281.7,607.6 281.7,694.9 275.9,700.7 260.9,702.4 245,700.3 240,694.9" fill="url(#g28)"/>
<polygon points="244,622.2 246.6,606.9 253.4,601.8 263.1,601 272.9,602.2 281.4,606.9 286.5,620.1 286.5,710.4 280.6,716.4 265.3,718.1 249.1,716 244,710.4" fill="url(#g29)"/>
<polygon points="248,634.7 250.6,619.1 257.5,613.9 267.5,613.1 277.4,614.4 286.1,619.1 291.3,632.5 291.3,723.7 285.2,729.7 269.7,731.5 253.2,729.3 248,723.7" fill="url(#g30)"/>
<polygon points="252,647.1 254.6,631.3 261.7,626 271.8,625.1 282,626.4 290.8,631.3 296.1,644.9 296.1,736.1 289.9,742.3 274,744.1 257.3,741.9 252,736.1" fill="url(#g31)"/>
<polygon points="256,659.5 258.7,643.4 265.9,638 276.2,637.1 286.5,638.5 295.5,643.4 300.9,657.3 300.9,748.6 294.6,754.9 278.4,756.7 261.4,754.4 256,748.6" fill="url(#g32)"/>
<polygon points="260,672 262.7,655.5 270,650 280.5,649.1 291,650.5 300.2,655.5 305.7,669.7 305.7,762 299.3,768.4 282.8,770.2 265.5,767.9 260,762" fill="url(#g33)"/>
<polygon points="264,687.2 266.8,670.4 274.2,664.9 284.9,663.9 295.6,665.3 304.9,670.4 310.4,684.8 310.4,776.2 303.9,782.7 287.2,784.6 269.6,782.3 264,776.2" fill="url(#g34)"/>
<polygon points="268,702.6 270.8,685.6 278.4,679.9 289.2,679 300.1,680.4 309.6,685.6 315.2,700.2 315.2,790.5 308.6,797.1 291.6,799 273.7,796.6 268,790.5" fill="url(#g35)"/>
<polygon points="272,718 274.9,700.7 282.6,695 293.6,694 304.6,695.4 314.2,700.7 320,715.6 320,794.4 313.3,801.1 296,803 277.8,800.6 272,794.4" fill="url(#g36)"/>
<polyline points="194.7,444 215,495 233,539 248.5,585 263.8,636 280,690 296,745" fill="none" stroke="#ffe0ea" stroke-opacity="0.6" stroke-width="2.4" stroke-linejoin="round"/>
<polyline points="203,432 222,480 240,530" fill="none" stroke="#ffe0ea" stroke-opacity="0.6" stroke-width="2.4" stroke-linejoin="round"/>
<polygon points="239,423.4 241,411.1 246.5,407 254.3,406.4 262.1,407.4 268.9,411.1 273,421.7 273,513.9 268.2,518.6 256,520 243.1,518.3 239,513.9" fill="url(#g39)"/>
<polygon points="243,419.8 245,407.5 250.5,403.4 258.3,402.7 266.2,403.8 273,407.5 277.1,418.1 277.1,528.6 272.3,533.3 260,534.7 247.1,533 243,528.6" fill="url(#g40)"/>
<polygon points="247,421.4 249.1,409.1 254.5,405 262.4,404.3 270.2,405.3 277.1,409.1 281.2,419.7 281.2,538 276.4,542.8 264.1,544.1 251.1,542.4 247,538" fill="url(#g41)"/>
<polygon points="251,425.2 253.1,412.8 258.5,408.7 266.4,408 274.3,409.1 281.1,412.8 285.3,423.4 285.3,547.4 280.5,552.2 268.1,553.5 255.1,551.8 251,547.4" fill="url(#g42)"/>
<polygon points="255,440.6 257.1,428.2 262.6,424.1 270.5,423.4 278.4,424.5 285.2,428.2 289.3,438.9 289.3,556.8 284.5,561.6 272.2,562.9 259.1,561.2 255,556.8" fill="url(#g43)"/>
<polygon points="259,458.3 261.1,445.9 266.6,441.8 274.5,441.1 282.4,442.1 289.3,445.9 293.4,456.6 293.4,566.3 288.6,571.1 276.2,572.5 263.1,570.8 259,566.3" fill="url(#g44)"/>
<polygon points="263,459.5 265.1,447.1 270.6,443 278.5,442.3 286.5,443.3 293.4,447.1 297.5,457.8 297.5,576.3 292.7,581.1 280.3,582.5 267.1,580.8 263,576.3" fill="url(#g45)"/>
<polygon points="267,462.4 269.1,450 274.6,445.8 282.6,445.1 290.5,446.2 297.5,450 301.6,460.7 301.6,586.3 296.8,591.1 284.3,592.5 271.2,590.8 267,586.3" fill="url(#g46)"/>
<polygon points="271,468.3 273.1,455.8 278.6,451.6 286.6,450.9 294.6,452 301.5,455.8 305.7,466.5 305.7,596.3 300.8,601.1 288.3,602.5 275.2,600.8 271,596.3" fill="url(#g47)"/>
<polygon points="275,497.3 277.1,484.8 282.7,480.7 290.7,480 298.7,481 305.6,484.8 309.8,495.6 309.8,606.2 304.9,611.1 292.4,612.5 279.2,610.8 275,606.2" fill="url(#g48)"/>
<polygon points="279,516.1 281.1,503.5 286.7,499.4 294.7,498.7 302.7,499.7 309.7,503.5 313.9,514.4 313.9,616.6 309,621.4 296.4,622.8 283.2,621.1 279,616.6" fill="url(#g49)"/>
<polygon points="283,520.7 285.1,508.1 290.7,503.9 298.7,503.2 306.8,504.2 313.8,508.1 318,518.9 318,627.9 313.1,632.8 300.5,634.2 287.2,632.4 283,627.9" fill="url(#g50)"/>
<polygon points="287,529.7 289.1,517.1 294.7,512.9 302.8,512.2 310.8,513.3 317.8,517.1 322,528 322,639.2 317.1,644.1 304.5,645.5 291.2,643.7 287,639.2" fill="url(#g51)"/>
<polygon points="291,552.7 293.1,540 298.7,535.8 306.8,535.1 314.9,536.2 321.9,540 326.1,550.9 326.1,650.5 321.2,655.4 308.6,656.8 295.2,655.1 291,650.5" fill="url(#g52)"/>
<polygon points="295,564 297.1,551.3 302.7,547.1 310.8,546.4 318.9,547.4 326,551.3 330.2,562.2 330.2,661.8 325.3,666.8 312.6,668.2 299.2,666.4 295,661.8" fill="url(#g53)"/>
<polygon points="299,575.3 301.1,562.6 306.8,558.3 314.9,557.6 323,558.7 330.1,562.6 334.3,573.5 334.3,670.6 329.4,675.6 316.7,677 303.2,675.2 299,670.6" fill="url(#g54)"/>
<polygon points="303,586.6 305.1,573.9 310.8,569.6 318.9,568.9 327.1,570 334.1,573.9 338.4,584.8 338.4,678.6 333.4,683.6 320.7,685 307.2,683.2 303,678.6" fill="url(#g55)"/>
<polygon points="307,597.9 309.1,585.1 314.8,580.9 323,580.2 331.1,581.2 338.2,585.1 342.5,596.1 342.5,686.6 337.5,691.6 324.7,693 311.3,691.2 307,686.6" fill="url(#g56)"/>
<polygon points="311,608.8 313.1,596 318.8,591.7 327,591 335.2,592 342.3,596 346.6,607 346.6,694.6 341.6,699.6 328.8,701 315.3,699.2 311,694.6" fill="url(#g57)"/>
<polygon points="315,619.6 317.1,606.8 322.8,602.5 331,601.8 339.2,602.9 346.4,606.8 350.7,617.8 350.7,702.6 345.7,707.6 332.8,709 319.3,707.2 315,702.6" fill="url(#g58)"/>
<polygon points="319,630.5 321.1,617.6 326.9,613.3 335.1,612.6 343.3,613.7 350.5,617.6 354.7,628.7 354.7,710.6 349.7,715.6 336.9,717 323.3,715.2 319,710.6" fill="url(#g59)"/>
<polygon points="323,641.3 325.1,628.4 330.9,624.1 339.1,623.3 347.4,624.4 354.5,628.4 358.8,639.5 358.8,716.3 353.8,721.3 340.9,722.8 327.3,721 323,716.3" fill="url(#g60)"/>
<polygon points="327,651.8 329.2,638.9 334.9,634.6 343.2,633.9 351.4,635 358.6,638.9 362.9,650.1 362.9,722 357.9,727.1 345,728.5 331.3,726.7 327,722" fill="url(#g61)"/>
<polygon points="331,662.4 333.2,649.5 338.9,645.2 347.2,644.4 355.5,645.5 362.7,649.5 367,660.6 367,724.6 362,729.6 349,731.1 335.3,729.3 331,724.6" fill="url(#g62)"/>
<polyline points="270,420 284,470 302,508 317.6,559 338,623 352,680" fill="none" stroke="#ffe0ea" stroke-opacity="0.6" stroke-width="2.4" stroke-linejoin="round"/>
<polygon points="308,402.6 310.4,388.2 316.8,383.4 326,382.6 335.2,383.8 343.2,388.2 348,400.6 348,536.1 342.4,541.7 328,543.3 312.8,541.3 308,536.1" fill="url(#g64)"/>
<polygon points="312,406.8 314.4,392.3 320.8,387.5 330.1,386.7 339.3,387.9 347.4,392.3 352.2,404.7 352.2,549.4 346.6,555.1 332.1,556.7 316.8,554.7 312,549.4" fill="url(#g65)"/>
<polygon points="316,413.9 318.4,399.4 324.9,394.5 334.2,393.7 343.5,394.9 351.6,399.4 356.4,411.9 356.4,562.7 350.7,568.4 336.2,570 320.8,568 316,562.7" fill="url(#g66)"/>
<polygon points="320,422.6 322.4,407.9 328.9,403.1 338.3,402.3 347.6,403.5 355.7,407.9 360.6,420.5 360.6,573.4 354.9,579 340.3,580.7 324.9,578.6 320,573.4" fill="url(#g67)"/>
<polygon points="324,430.7 326.4,416.1 333,411.2 342.4,410.3 351.7,411.6 359.9,416.1 364.8,428.7 364.8,584 359.1,589.7 344.4,591.3 328.9,589.3 324,584" fill="url(#g68)"/>
<polygon points="328,433.6 330.5,418.8 337,413.9 346.4,413.1 355.9,414.3 364.1,418.8 369,431.5 369,594.6 363.3,600.4 348.5,602 332.9,600 328,594.6" fill="url(#g69)"/>
<polygon points="332,440.2 334.5,425.3 341.1,420.4 350.5,419.6 360,420.8 368.3,425.3 373.2,438.1 373.2,605.3 367.4,611 352.6,612.7 336.9,610.6 332,605.3" fill="url(#g70)"/>
<polygon points="336,452.2 338.5,437.3 345.1,432.3 354.6,431.5 364.2,432.7 372.4,437.3 377.4,450.1 377.4,615.9 371.6,621.7 356.7,623.3 341,621.3 336,615.9" fill="url(#g71)"/>
<polygon points="340,479 342.5,464 349.2,459 358.7,458.2 368.3,459.4 376.6,464 381.6,476.9 381.6,626.5 375.8,632.3 360.8,634 345,631.9 340,626.5" fill="url(#g72)"/>
<polygon points="344,511.5 346.5,496.5 353.2,491.5 362.8,490.6 372.4,491.9 380.8,496.5 385.8,509.4 385.8,637.1 379.9,643 364.9,644.7 349,642.6 344,637.1" fill="url(#g73)"/>
<polygon points="348,544.1 350.5,529 357.2,523.9 366.9,523.1 376.6,524.3 385,529 390,542 390,646.4 384.1,652.3 369,654 353,651.9 348,646.4" fill="url(#g74)"/>
<polyline points="318,380 330,420 345,470" fill="none" stroke="#ffe0ea" stroke-opacity="0.6" stroke-width="2.4" stroke-linejoin="round"/>
<polygon points="366,340 594,340 594,531 585,560 576,574 560,590 530,640 470,680 420,690 395,690 366,650" fill="url(#g76)"/>
<polygon points="640,480 655,440 690,450 716,450 745,460 756,480 790,520 824,560 875,600 876,640 840,652 800,656 760,650 720,636 690,622 650,640 626,617" fill="url(#g77)"/>
<polygon points="366,287.8 367.4,280.4 371.3,277.5 376.8,277 382.3,277.7 387.1,280.4 390,286.7 391,615.7 387.6,619 378,620 367.9,618.8 365,615.7" fill="url(#g78)"/>
<line x1="383.3" y1="283" x2="384" y2="615.2" stroke="#ffdbe8" stroke-opacity="0.8" stroke-width="2.8"/>
<polygon points="400,238 400.9,228.1 403.3,226.3 406.8,226 410.2,226.4 413.2,228.1 415,236.8 415.6,597.3 413.5,599.4 407.5,600 401.2,599.2 399.4,597.3" fill="url(#g79)"/>
<line x1="410.8" y1="229.8" x2="411.2" y2="597" stroke="#ffdbe8" stroke-opacity="0.8" stroke-width="2.8"/>
<polygon points="418,271.1 419.7,262.1 424.4,258.6 431.1,258 437.7,258.9 443.5,262.1 447,269.7 448.2,594.8 444.1,598.8 432.5,600 420.3,598.5 416.8,594.8" fill="url(#g80)"/>
<line x1="438.9" y1="265.2" x2="439.7" y2="594.2" stroke="#ffdbe8" stroke-opacity="0.8" stroke-width="2.8"/>
<polygon points="458,250.2 459.1,237.7 462.2,235.4 466.6,235 470.9,235.6 474.7,237.7 477,248.7 477.8,566.6 475.1,569.2 467.5,570 459.5,569 457.2,566.6" fill="url(#g81)"/>
<line x1="471.7" y1="239.8" x2="472.2" y2="566.2" stroke="#ffdbe8" stroke-opacity="0.8" stroke-width="2.8"/>
<polygon points="474,274.9 475.6,265.3 479.3,262.2 482.4,264.7 486.4,261 490.1,264.1 494.5,261.6 498.2,265 501.9,263.5 505,273.6 506.2,544.4 501.9,548.8 489.5,550 476.5,548.5 472.8,544.4" fill="url(#g82)"/>
<line x1="496.3" y1="268.8" x2="497.2" y2="543.8" stroke="#ffdbe8" stroke-opacity="0.8" stroke-width="2.8"/>
<polygon points="516,263.4 516.8,254.8 518.9,253.3 521.9,253 524.8,253.4 527.4,254.8 529,262.4 529.5,517.7 527.7,519.5 522.5,520 517,519.4 515.5,517.7" fill="url(#g83)"/>
<line x1="525.4" y1="256.2" x2="525.7" y2="517.4" stroke="#ffdbe8" stroke-opacity="0.8" stroke-width="2.8"/>
<polygon points="534,262.1 535.4,253.8 538.6,251.1 541.3,253.2 544.8,250 548,252.7 551.8,250.5 555.1,253.5 558.3,252.2 561,260.9 562.1,510.1 558.3,513.9 547.5,515 536.2,513.6 532.9,510.1" fill="url(#g84)"/>
<line x1="553.4" y1="256.8" x2="554.2" y2="509.6" stroke="#ffdbe8" stroke-opacity="0.8" stroke-width="2.8"/>
<polygon points="563,313.9 564.9,304.3 569.8,300.6 577,300 584.1,300.9 590.3,304.3 594,312.6 595.2,572.4 590.9,576.8 578.5,578 565.5,576.5 561.8,572.4" fill="url(#g85)"/>
<line x1="585.3" y1="307.8" x2="586.2" y2="571.8" stroke="#ffdbe8" stroke-opacity="0.8" stroke-width="2.8"/>
<polygon points="383,339.6 384.7,330.9 389.2,327.6 395.6,327 402,327.8 407.6,330.9 411,338.3 412.1,615 408.2,618.9 397,620 385.2,618.6 381.9,615" fill="url(#g86)"/>
<line x1="403.2" y1="334" x2="403.9" y2="614.4" stroke="#ffdbe8" stroke-opacity="0.8" stroke-width="2.8"/>
<polygon points="441,319.6 442,314.4 444.7,312.3 448.6,312 452.6,312.5 456,314.4 458,318.9 458.7,596.9 456.3,599.3 449.5,600 442.4,599.1 440.3,596.9" fill="url(#g87)"/>
<line x1="453.2" y1="316.2" x2="453.7" y2="596.6" stroke="#ffdbe8" stroke-opacity="0.8" stroke-width="2.8"/>
<polygon points="507,313.2 508,308.2 510.5,306.3 514.2,306 517.9,306.5 521.1,308.2 523,312.5 523.6,557.1 521.4,559.4 515,560 508.3,559.2 506.4,557.1" fill="url(#g88)"/>
<line x1="518.5" y1="310" x2="519" y2="556.8" stroke="#ffdbe8" stroke-opacity="0.8" stroke-width="2.8"/>
<polygon points="408,394.2 409.5,386.5 413.5,383.5 419.2,383 425,383.8 430,386.5 433,393.1 434,615.5 430.5,619 420.5,620 410,618.8 407,615.5" fill="url(#g89)"/>
<ellipse cx="420.5" cy="393.5" rx="10.0" ry="7.5" fill="none" stroke="#ffc62b" stroke-opacity="0.55" stroke-width="2"/>
<line x1="426" y1="389.2" x2="426.7" y2="615" stroke="#ffdbe8" stroke-opacity="0.8" stroke-width="2.8"/>
<polygon points="469,387.6 470.7,378.9 475.2,375.6 481.6,375 488,375.8 493.6,378.9 497,386.3 498.1,615 494.2,618.9 483,620 471.2,618.6 467.9,615" fill="url(#g90)"/>
<ellipse cx="483.0" cy="386.8" rx="11.2" ry="8.4" fill="none" stroke="#ffc62b" stroke-opacity="0.55" stroke-width="2"/>
<line x1="489.2" y1="382" x2="489.9" y2="614.4" stroke="#ffdbe8" stroke-opacity="0.8" stroke-width="2.8"/>
<polygon points="538,392.6 539.7,383.9 544.2,380.6 550.6,380 557,380.8 562.6,383.9 566,391.3 567.1,555 563.2,558.9 552,560 540.2,558.6 536.9,555" fill="url(#g91)"/>
<ellipse cx="552.0" cy="391.8" rx="11.2" ry="8.4" fill="none" stroke="#ffc02e" stroke-opacity="0.55" stroke-width="2"/>
<line x1="558.2" y1="387" x2="558.9" y2="554.4" stroke="#ffdbe8" stroke-opacity="0.8" stroke-width="2.8"/>
<polygon points="624,445 627,428 635,421 645,422 652,430 655,470 655,600 641,614 622,618 609,612 611,560 617,500 622,460" fill="url(#g92)"/>
<line x1="646" y1="440" x2="644" y2="600" stroke="#ffdbe8" stroke-opacity="0.8" stroke-width="2.8"/>
<polygon points="655,370.5 656.5,361.2 660.1,358.2 663.1,360.6 667,357 670.6,360 674.8,357.6 678.4,360.9 682,359.4 685,369.1 686.2,634.6 682,638.8 670,640 657.4,638.5 653.8,634.6" fill="url(#g93)"/>
<ellipse cx="670.0" cy="369.6" rx="12.0" ry="9.0" fill="none" stroke="#ffbc2f" stroke-opacity="0.55" stroke-width="2"/>
<line x1="676.6" y1="364.5" x2="677.4" y2="634" stroke="#ffdbe8" stroke-opacity="0.8" stroke-width="2.8"/>
<polygon points="686,421.1 687.7,412.1 692.4,408.6 699,408 705.7,408.9 711.5,412.1 715,419.7 716.2,634.8 712.1,638.8 700.5,640 688.3,638.5 684.8,634.8" fill="url(#g94)"/>
<ellipse cx="700.5" cy="420.2" rx="11.6" ry="8.7" fill="none" stroke="#ffab36" stroke-opacity="0.55" stroke-width="2"/>
<line x1="706.9" y1="415.2" x2="707.7" y2="634.2" stroke="#ffdbe8" stroke-opacity="0.8" stroke-width="2.8"/>
<polygon points="715,375.6 716.4,366.9 719.8,364.1 722.6,366.4 726.2,363 729.6,365.8 733.5,363.6 736.8,366.6 740.2,365.2 743,374.3 744.1,635 740.2,638.9 729,640 717.2,638.6 713.9,635" fill="url(#g95)"/>
<ellipse cx="729.0" cy="374.8" rx="11.2" ry="8.4" fill="none" stroke="#ffb931" stroke-opacity="0.55" stroke-width="2"/>
<line x1="735.2" y1="370" x2="735.9" y2="634.4" stroke="#ffdbe8" stroke-opacity="0.8" stroke-width="2.8"/>
<polygon points="755,440.8 756.8,429.9 761,426.4 764.5,429.2 769,425 773.2,428.5 778.1,425.7 782.3,429.6 786.5,427.8 790,439.2 791.4,613.7 786.5,618.6 772.5,620 757.8,618.2 753.6,613.7" fill="url(#g96)"/>
<ellipse cx="772.5" cy="439.7" rx="14.0" ry="10.5" fill="none" stroke="#fea03d" stroke-opacity="0.55" stroke-width="2"/>
<line x1="780.2" y1="433.8" x2="781.2" y2="613" stroke="#ffdbe8" stroke-opacity="0.8" stroke-width="2.8"/>
<polygon points="790,504.3 791.7,493.8 795.8,490.4 799.2,493.1 803.6,489 807.7,492.4 812.4,489.7 816.5,493.4 820.6,491.7 824,502.8 825.4,633.9 820.6,638.6 807,640 792.7,638.3 788.6,633.9" fill="url(#g97)"/>
<ellipse cx="807.0" cy="503.3" rx="13.6" ry="10.2" fill="none" stroke="#f98f47" stroke-opacity="0.55" stroke-width="2"/>
<line x1="814.5" y1="497.5" x2="815.4" y2="633.2" stroke="#ffdbe8" stroke-opacity="0.8" stroke-width="2.8"/>
<polygon points="831,556.8 833.2,543.2 838.5,538.8 842.9,542.3 848.6,537 853.9,541.4 860,537.9 865.3,542.7 870.6,540.5 875,554.8 876.8,652.1 870.6,658.2 853,660 834.5,657.8 829.2,652.1" fill="url(#g98)"/>
<ellipse cx="853.0" cy="555.5" rx="17.6" ry="13.2" fill="none" stroke="#f5844f" stroke-opacity="0.55" stroke-width="2"/>
<line x1="862.7" y1="548" x2="863.9" y2="651.2" stroke="#ffdbe8" stroke-opacity="0.8" stroke-width="2.8"/>
<polygon points="533,468 542,463 551,466 552,490 550,510 540,512 533,500" fill="url(#g99)"/>
<polygon points="566,526 580,520 594,522 597,531 590,558 580,576 566,572" fill="url(#g100)"/>
<polygon points="365,483.5 366.8,474.2 371.6,470.6 378.5,470 385.4,470.9 391.4,474.2 395,482.1 396.2,642.6 392,646.8 380,648 367.4,646.5 363.8,642.6" fill="url(#g101)"/>
<ellipse cx="380.0" cy="482.6" rx="12.0" ry="9.0" fill="none" stroke="#ffbc2f" stroke-opacity="0.55" stroke-width="2"/>
<line x1="386.6" y1="477.5" x2="387.4" y2="642" stroke="#ffdbe8" stroke-opacity="0.8" stroke-width="2.8"/>
<polygon points="430,471.9 432,461.6 437.3,457.7 444.9,457 452.4,458 459,461.6 463,470.4 464.3,634.1 459.7,638.7 446.5,640 432.6,638.4 428.7,634.1" fill="url(#g102)"/>
<ellipse cx="446.5" cy="470.9" rx="13.2" ry="9.9" fill="none" stroke="#ffc02e" stroke-opacity="0.55" stroke-width="2"/>
<line x1="453.8" y1="465.2" x2="454.7" y2="633.4" stroke="#ffdbe8" stroke-opacity="0.8" stroke-width="2.8"/>
<polygon points="500,450.1 501.7,441.1 506.4,437.6 513,437 519.7,437.9 525.5,441.1 529,448.7 530.2,634.8 526.1,638.8 514.5,640 502.3,638.5 498.8,634.8" fill="url(#g103)"/>
<ellipse cx="514.5" cy="449.2" rx="11.6" ry="8.7" fill="none" stroke="#ffc02e" stroke-opacity="0.55" stroke-width="2"/>
<line x1="520.9" y1="444.2" x2="521.7" y2="634.2" stroke="#ffdbe8" stroke-opacity="0.8" stroke-width="2.8"/>
<polygon points="663,500.9 664.5,491.3 668.3,488.2 671.4,490.7 675.4,487 679.1,490.1 683.5,487.6 687.2,491 690.9,489.5 694,499.6 695.2,654.4 690.9,658.8 678.5,660 665.5,658.5 661.8,654.4" fill="url(#g104)"/>
<ellipse cx="678.5" cy="500.0" rx="12.4" ry="9.3" fill="none" stroke="#fb9444" stroke-opacity="0.55" stroke-width="2"/>
<line x1="685.3" y1="494.8" x2="686.2" y2="653.8" stroke="#ffdbe8" stroke-opacity="0.8" stroke-width="2.8"/>
<polygon points="728,499.9 729.5,490.3 733.3,487.2 736.4,489.7 740.4,486 744.1,489.1 748.5,486.6 752.2,490 755.9,488.5 759,498.6 760.2,654.4 755.9,658.8 743.5,660 730.5,658.5 726.8,654.4" fill="url(#g105)"/>
<ellipse cx="743.5" cy="499.0" rx="12.4" ry="9.3" fill="none" stroke="#fb9444" stroke-opacity="0.55" stroke-width="2"/>
<line x1="750.3" y1="493.8" x2="751.2" y2="653.8" stroke="#ffdbe8" stroke-opacity="0.8" stroke-width="2.8"/>
<polygon points="765,566.5 767,553.7 772,549.6 776.1,552.9 781.4,548 786.3,552.1 792.1,548.8 797,553.3 801.9,551.3 806,564.6 807.6,682.6 801.9,688.4 785.5,690 768.3,688 763.4,682.6" fill="url(#g106)"/>
<ellipse cx="785.5" cy="565.2" rx="16.4" ry="12.3" fill="none" stroke="#f8894b" stroke-opacity="0.55" stroke-width="2"/>
<line x1="794.5" y1="558.2" x2="795.7" y2="681.8" stroke="#ffdbe8" stroke-opacity="0.8" stroke-width="2.8"/>
<polygon points="461,539.3 463,528.8 468.5,524.7 476.3,524 484.1,525 490.9,528.8 495,537.8 496.4,713.9 491.6,718.6 478,720 463.7,718.3 459.6,713.9" fill="url(#g107)"/>
<ellipse cx="478.0" cy="538.3" rx="13.6" ry="10.2" fill="none" stroke="#ffa838" stroke-opacity="0.55" stroke-width="2"/>
<line x1="485.5" y1="532.5" x2="486.4" y2="713.2" stroke="#ffdbe8" stroke-opacity="0.8" stroke-width="2.8"/>
<polygon points="532,528.3 534,517.8 539.5,513.7 547.3,513 555.1,514 561.9,517.8 566,526.8 567.4,713.9 562.6,718.6 549,720 534.7,718.3 530.6,713.9" fill="url(#g108)"/>
<ellipse cx="549.0" cy="527.3" rx="13.6" ry="10.2" fill="none" stroke="#ffa838" stroke-opacity="0.55" stroke-width="2"/>
<line x1="556.5" y1="521.5" x2="557.4" y2="713.2" stroke="#ffdbe8" stroke-opacity="0.8" stroke-width="2.8"/>
<polygon points="413,639.1 415.3,627.3 421.4,622.8 430.1,622 438.8,623.1 446.4,627.3 451,637.4 452.5,783.2 447.2,788.5 432,790 416,788.1 411.5,783.2" fill="url(#g109)"/>
<ellipse cx="432.0" cy="638.0" rx="15.2" ry="11.4" fill="none" stroke="#f8894b" stroke-opacity="0.55" stroke-width="2"/>
<line x1="440.4" y1="631.5" x2="441.4" y2="782.4" stroke="#ffdbe8" stroke-opacity="0.8" stroke-width="2.8"/>
<polygon points="491,623 492.9,613.3 497.8,609.6 504.9,609 512.1,609.9 518.3,613.3 522,621.6 523.2,764.4 518.9,768.8 506.5,770 493.5,768.5 489.8,764.4" fill="url(#g110)"/>
<ellipse cx="506.5" cy="622.0" rx="12.4" ry="9.3" fill="none" stroke="#f88c49" stroke-opacity="0.55" stroke-width="2"/>
<line x1="513.3" y1="616.8" x2="514.2" y2="763.8" stroke="#ffdbe8" stroke-opacity="0.8" stroke-width="2.8"/>
<polygon points="565,594.9 567,584.6 572.3,580.7 579.9,580 587.4,581 594,584.6 598,593.4 599.3,744.1 594.7,748.7 581.5,750 567.6,748.4 563.7,744.1" fill="url(#g111)"/>
<ellipse cx="581.5" cy="593.9" rx="13.2" ry="9.9" fill="none" stroke="#f98f47" stroke-opacity="0.55" stroke-width="2"/>
<line x1="588.8" y1="588.2" x2="589.7" y2="743.4" stroke="#ffdbe8" stroke-opacity="0.8" stroke-width="2.8"/>
<polygon points="626,593.5 629,578 637,572 648.5,571 660,572.5 670,578 676,591.2 678,736 671,743 651,745 630,742.5 624,736" fill="url(#g112)"/>
<ellipse cx="651.0" cy="592.0" rx="20.0" ry="15.0" fill="none" stroke="#f98f47" stroke-opacity="0.55" stroke-width="2"/>
<line x1="662" y1="583.5" x2="663.4" y2="735" stroke="#ffdbe8" stroke-opacity="0.8" stroke-width="2.8"/>
<polygon points="372,748 375,735 380,725 386,722 392,727 397,740 405,765 418,802 426,835 408,847 389,852 378,851 370,831 360,802 362,794 369,762" fill="url(#g113)"/>
<line x1="402" y1="745" x2="408" y2="845" stroke="#ffdbe8" stroke-opacity="0.8" stroke-width="2.8"/>
<polygon points="434,775 453,722 463,718 475,725 487,742 492,799 496,823 468,828 451,823 440,800" fill="url(#g114)"/>
<line x1="478" y1="735" x2="482" y2="822" stroke="#ffdbe8" stroke-opacity="0.8" stroke-width="2.8"/>
<polygon points="525,715 537,694 547,696 563,715 573,763 578,794 554,804 532,799 523,775" fill="url(#g115)"/>
<line x1="563" y1="712" x2="567" y2="800" stroke="#ffdbe8" stroke-opacity="0.8" stroke-width="2.8"/>
<polygon points="602,684 611,675 623,679 635,694 645,727 652,756 623,780 602,770 592,727" fill="url(#g116)"/>
<line x1="636" y1="700" x2="640" y2="775" stroke="#ffdbe8" stroke-opacity="0.8" stroke-width="2.8"/>
<polygon points="678,661 689,654 700,652 708,658 711,673 721,703 726,735 719,755 702,763 689,757 678,748 666,723 670,691" fill="url(#g117)"/>
<line x1="695" y1="660" x2="697" y2="760" stroke="#ffdbe8" stroke-opacity="0.8" stroke-width="2.8"/>
<polygon points="738,660 753,650 762,652 771,661 779,684 786,710 792,729 783,742 762,746 749,737 728,710 725,686" fill="url(#g118)"/>
<line x1="770" y1="662" x2="774" y2="742" stroke="#ffdbe8" stroke-opacity="0.8" stroke-width="2.8"/>
<polygon points="817,635 826,628 835,631 847,648 854,654 860,691 862,716 852,725 828,729 820,723 800,695 801,673" fill="url(#g119)"/>
<line x1="846" y1="650" x2="848" y2="724" stroke="#ffdbe8" stroke-opacity="0.8" stroke-width="2.8"/>
<polygon points="877,635 885,625 892,622 905,622 922,629 928,638 930,680 928,712 905,722 890,716 882,691 865,665" fill="url(#g120)"/>
<line x1="913" y1="628" x2="915" y2="718" stroke="#ffdbe8" stroke-opacity="0.8" stroke-width="2.8"/>
</g>
<rect x="1060" y="27" width="96" height="1032" fill="url(#cb)"/>
<circle cx="377" cy="97.5" r="40" fill="#ff0000"/>
<polyline points="79.5,599.5 157.7,1136 920,935" fill="none" stroke="#000" stroke-width="3.3" stroke-linejoin="miter"/>
<polygon points="75.7,573 64.6,600.3 94.5,596" fill="#000"/>
<polygon points="944,928 915.2,920.6 922.6,949" fill="#000"/>
<text x="1177.5" y="85" font-size="68" font-family="Liberation Serif, Times New Roman, serif" fill="#000">&#916;V</text>
<text x="1285" y="85" font-size="68" font-family="Liberation Serif, Times New Roman, serif" fill="#000">[V]</text>
<text x="1164" y="182" font-size="64" font-family="Liberation Serif, Times New Roman, serif" fill="#000">0.3</text>
<text x="1164" y="351" font-size="64" font-family="Liberation Serif, Times New Roman, serif" fill="#000">0.2</text>
<text x="1164" y="522" font-size="64" font-family="Liberation Serif, Times New Roman, serif" fill="#000">0.1</text>
<text x="1164" y="689" font-size="64" font-family="Liberation Serif, Times New Roman, serif" fill="#000">0.0</text>
<text x="1164" y="856" font-size="64" font-family="Liberation Serif, Times New Roman, serif" fill="#000">&#8722;0.1</text>
<text x="1164" y="1027" font-size="64" font-family="Liberation Serif, Times New Roman, serif" fill="#000">&#8722;0.2</text>
<text x="64" y="120" font-size="66" letter-spacing="-0.5" font-family="Liberation Serif, Times New Roman, serif" fill="#ff0000">Gas sorce</text>
<text transform="translate(493,1097) rotate(-12)" font-size="66" font-family="Liberation Serif, Times New Roman, serif" fill="#000"><tspan font-style="italic">x</tspan>-axis</text>
<text transform="translate(52,860) rotate(81.6)" font-size="66" font-family="Liberation Serif, Times New Roman, serif" fill="#000"><tspan font-style="italic">y</tspan>-axis</text>
</svg></body></html>
